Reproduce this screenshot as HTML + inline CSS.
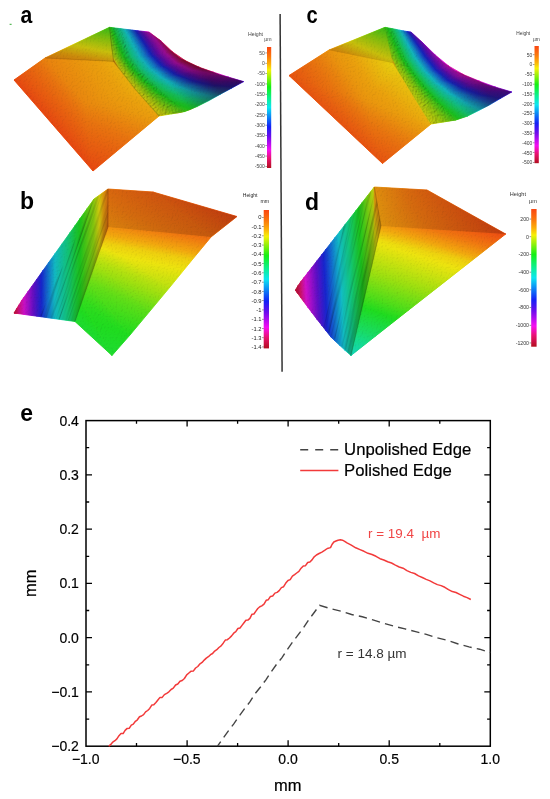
<!DOCTYPE html>
<html><head><meta charset="utf-8"><title>Figure</title>
<style>html,body{margin:0;padding:0;background:#fff}svg{display:block}text{font-family:"Liberation Sans",sans-serif;white-space:pre}</style>
</head><body>
<svg width="550" height="799" viewBox="0 0 550 799">
<defs>
<linearGradient id="cm"><stop offset="0" stop-color="#EE4A12"/><stop offset="0.08" stop-color="#F07810"/><stop offset="0.14" stop-color="#F2A80E"/><stop offset="0.19" stop-color="#EDE40F"/><stop offset="0.25" stop-color="#9CE010"/><stop offset="0.33" stop-color="#1FDC1F"/><stop offset="0.42" stop-color="#14DC8C"/><stop offset="0.5" stop-color="#14D2DC"/><stop offset="0.58" stop-color="#1482E6"/><stop offset="0.66" stop-color="#1A28E6"/><stop offset="0.74" stop-color="#6A10DC"/><stop offset="0.8" stop-color="#B010E0"/><stop offset="0.85" stop-color="#E612E0"/><stop offset="0.92" stop-color="#E0146E"/><stop offset="1" stop-color="#B0101E"/></linearGradient>
<linearGradient id="cb" x1="0" y1="0" x2="0" y2="1"><stop offset="0" stop-color="#FA4612"/><stop offset="0.08" stop-color="#FB7A0C"/><stop offset="0.14" stop-color="#FCB008"/><stop offset="0.19" stop-color="#F6F008"/><stop offset="0.25" stop-color="#98F00A"/><stop offset="0.33" stop-color="#14F014"/><stop offset="0.42" stop-color="#0CF08C"/><stop offset="0.5" stop-color="#0CE6F0"/><stop offset="0.58" stop-color="#0C82F6"/><stop offset="0.66" stop-color="#1420F6"/><stop offset="0.74" stop-color="#6C0CEC"/><stop offset="0.8" stop-color="#B80CF0"/><stop offset="0.85" stop-color="#F60EF0"/><stop offset="0.92" stop-color="#E81270"/><stop offset="1" stop-color="#B20E1E"/></linearGradient>
<filter id="tex" x="0" y="0" width="1" height="1" color-interpolation-filters="sRGB"><feTurbulence type="fractalNoise" baseFrequency=".8" numOctaves="1" seed="7" result="n"/><feDiffuseLighting in="n" surfaceScale=".35" diffuseConstant="1.18" lighting-color="#fff" result="l"><feDistantLight azimuth="220" elevation="58"/></feDiffuseLighting><feComposite in="l" in2="SourceGraphic" operator="in"/></filter>
<filter id="tex2" x="0" y="0" width="1" height="1" color-interpolation-filters="sRGB"><feTurbulence type="fractalNoise" baseFrequency=".9" numOctaves="2" seed="3" result="n"/><feDiffuseLighting in="n" surfaceScale=".9" diffuseConstant="1.12" lighting-color="#fff" result="l"><feDistantLight azimuth="220" elevation="58"/></feDiffuseLighting><feComposite in="l" in2="SourceGraphic" operator="in"/></filter>
<filter id="tex3" x="0" y="0" width="1" height="1" color-interpolation-filters="sRGB"><feTurbulence type="fractalNoise" baseFrequency=".55 .012" numOctaves="2" seed="5" result="n"/><feDiffuseLighting in="n" surfaceScale=".7" diffuseConstant="1.12" lighting-color="#fff" result="l"><feDistantLight azimuth="180" elevation="60"/></feDiffuseLighting><feComposite in="l" in2="SourceGraphic" operator="in"/></filter>
<linearGradient id="g1" gradientUnits="userSpaceOnUse" x1="135.0" y1="88.0" x2="185.0" y2="48.0"><stop offset="0" stop-color="#000" stop-opacity="0.16"/><stop offset="0.45" stop-color="#000" stop-opacity="0.16"/><stop offset="1" stop-color="#200010" stop-opacity="0.6"/></linearGradient>
<linearGradient id="g2" href="#cm" gradientUnits="userSpaceOnUse" x1="41.0" y1="78.0" x2="81.2" y2="-121.9"/>
<linearGradient id="g3" href="#cm" gradientUnits="userSpaceOnUse" x1="54.4" y1="128.5" x2="345.5" y2="-114.3"/>
<linearGradient id="g4" href="#cm" gradientUnits="userSpaceOnUse" x1="-4.5" y1="169.4" x2="847.8" y2="-463.0"/>
<linearGradient id="g5" href="#cm" gradientUnits="userSpaceOnUse" x1="-3.7" y1="171.8" x2="840.9" y2="-483.1"/>
<linearGradient id="g6" href="#cm" gradientUnits="userSpaceOnUse" x1="32.9" y1="179.6" x2="529.2" y2="-549.8"/>
<linearGradient id="g7" href="#cm" gradientUnits="userSpaceOnUse" x1="60.4" y1="155.8" x2="294.5" y2="-347.4"/>
<linearGradient id="g8" href="#cm" gradientUnits="userSpaceOnUse" x1="55.9" y1="128.3" x2="333.1" y2="-112.3"/>
<linearGradient id="g9" href="#cm" gradientUnits="userSpaceOnUse" x1="89.7" y1="35.4" x2="153.6" y2="9.2"/>
<linearGradient id="g10" href="#cm" gradientUnits="userSpaceOnUse" x1="87.4" y1="36.0" x2="158.7" y2="8.0"/>
<linearGradient id="g11" href="#cm" gradientUnits="userSpaceOnUse" x1="93.5" y1="50.2" x2="161.8" y2="19.6"/>
<linearGradient id="g12" href="#cm" gradientUnits="userSpaceOnUse" x1="92.5" y1="50.4" x2="164.7" y2="19.0"/>
<linearGradient id="g13" href="#cm" gradientUnits="userSpaceOnUse" x1="101.4" y1="65.5" x2="158.3" y2="25.0"/>
<linearGradient id="g14" href="#cm" gradientUnits="userSpaceOnUse" x1="100.2" y1="65.9" x2="163.0" y2="23.7"/>
<linearGradient id="g15" href="#cm" gradientUnits="userSpaceOnUse" x1="110.7" y1="78.6" x2="161.0" y2="33.1"/>
<linearGradient id="g16" href="#cm" gradientUnits="userSpaceOnUse" x1="107.7" y1="79.7" x2="173.6" y2="28.5"/>
<linearGradient id="g17" href="#cm" gradientUnits="userSpaceOnUse" x1="119.8" y1="92.0" x2="170.4" y2="38.6"/>
<linearGradient id="g18" href="#cm" gradientUnits="userSpaceOnUse" x1="114.7" y1="94.2" x2="192.3" y2="29.1"/>
<linearGradient id="g19" href="#cm" gradientUnits="userSpaceOnUse" x1="128.8" y1="106.1" x2="183.1" y2="39.2"/>
<linearGradient id="g20" href="#cm" gradientUnits="userSpaceOnUse" x1="122.0" y1="109.7" x2="212.4" y2="23.6"/>
<linearGradient id="g21" href="#cm" gradientUnits="userSpaceOnUse" x1="137.2" y1="120.7" x2="201.4" y2="34.3"/>
<linearGradient id="g22" href="#cm" gradientUnits="userSpaceOnUse" x1="126.7" y1="126.5" x2="247.7" y2="8.4"/>
<linearGradient id="g23" href="#cm" gradientUnits="userSpaceOnUse" x1="90.8" y1="39.6" x2="154.6" y2="9.3"/>
<linearGradient id="g24" href="#cm" gradientUnits="userSpaceOnUse" x1="87.0" y1="40.5" x2="160.8" y2="7.8"/>
<linearGradient id="g25" href="#cm" gradientUnits="userSpaceOnUse" x1="94.0" y1="54.7" x2="164.6" y2="19.6"/>
<linearGradient id="g26" href="#cm" gradientUnits="userSpaceOnUse" x1="92.1" y1="55.2" x2="168.2" y2="18.8"/>
<linearGradient id="g27" href="#cm" gradientUnits="userSpaceOnUse" x1="103.8" y1="71.1" x2="162.5" y2="26.0"/>
<linearGradient id="g28" href="#cm" gradientUnits="userSpaceOnUse" x1="101.6" y1="71.9" x2="167.4" y2="24.3"/>
<linearGradient id="g29" href="#cm" gradientUnits="userSpaceOnUse" x1="115.6" y1="84.8" x2="163.8" y2="34.5"/>
<linearGradient id="g30" href="#cm" gradientUnits="userSpaceOnUse" x1="111.0" y1="87.1" x2="174.7" y2="28.9"/>
<linearGradient id="g31" href="#cm" gradientUnits="userSpaceOnUse" x1="127.1" y1="98.2" x2="170.9" y2="40.7"/>
<linearGradient id="g32" href="#cm" gradientUnits="userSpaceOnUse" x1="120.3" y1="103.0" x2="187.4" y2="29.1"/>
<linearGradient id="g33" href="#cm" gradientUnits="userSpaceOnUse" x1="138.0" y1="112.1" x2="182.0" y2="42.2"/>
<linearGradient id="g34" href="#cm" gradientUnits="userSpaceOnUse" x1="130.4" y1="119.1" x2="201.5" y2="24.3"/>
<linearGradient id="g35" href="#cm" gradientUnits="userSpaceOnUse" x1="148.7" y1="126.2" x2="196.1" y2="38.6"/>
<linearGradient id="g36" href="#cm" gradientUnits="userSpaceOnUse" x1="139.1" y1="136.7" x2="222.7" y2="9.4"/>
<linearGradient id="g37" href="#cm" gradientUnits="userSpaceOnUse" x1="95.8" y1="42.3" x2="151.3" y2="12.0"/>
<linearGradient id="g38" href="#cm" gradientUnits="userSpaceOnUse" x1="89.7" y1="43.8" x2="158.8" y2="10.2"/>
<linearGradient id="g39" href="#cm" gradientUnits="userSpaceOnUse" x1="97.6" y1="58.2" x2="163.4" y2="22.2"/>
<linearGradient id="g40" href="#cm" gradientUnits="userSpaceOnUse" x1="94.0" y1="58.9" x2="168.3" y2="21.2"/>
<linearGradient id="g41" href="#cm" gradientUnits="userSpaceOnUse" x1="108.3" y1="76.3" x2="164.0" y2="28.8"/>
<linearGradient id="g42" href="#cm" gradientUnits="userSpaceOnUse" x1="104.2" y1="77.7" x2="170.0" y2="26.7"/>
<linearGradient id="g43" href="#cm" gradientUnits="userSpaceOnUse" x1="122.3" y1="91.2" x2="166.1" y2="36.6"/>
<linearGradient id="g44" href="#cm" gradientUnits="userSpaceOnUse" x1="115.4" y1="95.4" x2="176.6" y2="30.2"/>
<linearGradient id="g45" href="#cm" gradientUnits="userSpaceOnUse" x1="136.3" y1="105.3" x2="172.7" y2="42.1"/>
<linearGradient id="g46" href="#cm" gradientUnits="userSpaceOnUse" x1="127.7" y1="113.6" x2="186.5" y2="28.9"/>
<linearGradient id="g47" href="#cm" gradientUnits="userSpaceOnUse" x1="149.2" y1="119.8" x2="183.3" y2="41.9"/>
<linearGradient id="g48" href="#cm" gradientUnits="userSpaceOnUse" x1="140.7" y1="131.3" x2="198.0" y2="21.9"/>
<linearGradient id="g49" href="#cm" gradientUnits="userSpaceOnUse" x1="162.7" y1="134.3" x2="194.2" y2="36.8"/>
<linearGradient id="g50" href="#cm" gradientUnits="userSpaceOnUse" x1="154.3" y1="150.5" x2="210.7" y2="4.7"/>
<linearGradient id="g51" href="#cm" gradientUnits="userSpaceOnUse" x1="103.1" y1="44.2" x2="147.7" y2="15.9"/>
<linearGradient id="g52" href="#cm" gradientUnits="userSpaceOnUse" x1="96.1" y1="46.0" x2="154.1" y2="14.2"/>
<linearGradient id="g53" href="#cm" gradientUnits="userSpaceOnUse" x1="104.3" y1="59.7" x2="160.1" y2="26.5"/>
<linearGradient id="g54" href="#cm" gradientUnits="userSpaceOnUse" x1="100.3" y1="60.4" x2="164.0" y2="25.8"/>
<linearGradient id="g55" href="#cm" gradientUnits="userSpaceOnUse" x1="116.3" y1="77.8" x2="162.3" y2="34.8"/>
<linearGradient id="g56" href="#cm" gradientUnits="userSpaceOnUse" x1="112.2" y1="79.4" x2="166.4" y2="33.2"/>
<linearGradient id="g57" href="#cm" gradientUnits="userSpaceOnUse" x1="132.5" y1="92.0" x2="165.7" y2="43.9"/>
<linearGradient id="g58" href="#cm" gradientUnits="userSpaceOnUse" x1="126.3" y1="96.6" x2="172.1" y2="39.2"/>
<linearGradient id="g59" href="#cm" gradientUnits="userSpaceOnUse" x1="148.4" y1="104.3" x2="173.4" y2="51.0"/>
<linearGradient id="g60" href="#cm" gradientUnits="userSpaceOnUse" x1="141.6" y1="112.5" x2="180.7" y2="42.1"/>
<linearGradient id="g61" href="#cm" gradientUnits="userSpaceOnUse" x1="162.5" y1="116.7" x2="184.6" y2="53.3"/>
<linearGradient id="g62" href="#cm" gradientUnits="userSpaceOnUse" x1="156.6" y1="126.6" x2="191.8" y2="41.2"/>
<linearGradient id="g63" href="#cm" gradientUnits="userSpaceOnUse" x1="177.0" y1="128.3" x2="195.9" y2="52.6"/>
<linearGradient id="g64" href="#cm" gradientUnits="userSpaceOnUse" x1="171.9" y1="140.2" x2="203.3" y2="35.4"/>
<linearGradient id="g65" href="#cm" gradientUnits="userSpaceOnUse" x1="109.7" y1="46.8" x2="146.6" y2="19.2"/>
<linearGradient id="g66" href="#cm" gradientUnits="userSpaceOnUse" x1="101.6" y1="49.4" x2="151.9" y2="17.5"/>
<linearGradient id="g67" href="#cm" gradientUnits="userSpaceOnUse" x1="110.1" y1="62.1" x2="159.3" y2="29.8"/>
<linearGradient id="g68" href="#cm" gradientUnits="userSpaceOnUse" x1="105.4" y1="63.0" x2="162.4" y2="29.2"/>
<linearGradient id="g69" href="#cm" gradientUnits="userSpaceOnUse" x1="123.6" y1="80.0" x2="163.1" y2="39.4"/>
<linearGradient id="g70" href="#cm" gradientUnits="userSpaceOnUse" x1="119.2" y1="82.0" x2="166.0" y2="38.2"/>
<linearGradient id="g71" href="#cm" gradientUnits="userSpaceOnUse" x1="142.4" y1="93.0" x2="168.2" y2="49.4"/>
<linearGradient id="g72" href="#cm" gradientUnits="userSpaceOnUse" x1="136.2" y1="98.5" x2="172.2" y2="45.8"/>
<linearGradient id="g73" href="#cm" gradientUnits="userSpaceOnUse" x1="160.1" y1="103.5" x2="177.3" y2="57.1"/>
<linearGradient id="g74" href="#cm" gradientUnits="userSpaceOnUse" x1="154.2" y1="112.4" x2="181.3" y2="51.0"/>
<linearGradient id="g75" href="#cm" gradientUnits="userSpaceOnUse" x1="175.0" y1="114.4" x2="189.4" y2="60.3"/>
<linearGradient id="g76" href="#cm" gradientUnits="userSpaceOnUse" x1="170.3" y1="124.3" x2="193.1" y2="52.4"/>
<linearGradient id="g77" href="#cm" gradientUnits="userSpaceOnUse" x1="190.4" y1="124.2" x2="201.3" y2="61.4"/>
<linearGradient id="g78" href="#cm" gradientUnits="userSpaceOnUse" x1="186.8" y1="135.1" x2="204.9" y2="50.5"/>
<linearGradient id="g79" href="#cm" gradientUnits="userSpaceOnUse" x1="113.3" y1="51.9" x2="148.4" y2="21.6"/>
<linearGradient id="g80" href="#cm" gradientUnits="userSpaceOnUse" x1="103.4" y1="55.5" x2="152.8" y2="20.0"/>
<linearGradient id="g81" href="#cm" gradientUnits="userSpaceOnUse" x1="112.0" y1="67.4" x2="161.4" y2="31.9"/>
<linearGradient id="g82" href="#cm" gradientUnits="userSpaceOnUse" x1="106.4" y1="68.5" x2="163.6" y2="31.5"/>
<linearGradient id="g83" href="#cm" gradientUnits="userSpaceOnUse" x1="128.2" y1="85.3" x2="166.5" y2="42.5"/>
<linearGradient id="g84" href="#cm" gradientUnits="userSpaceOnUse" x1="123.0" y1="87.8" x2="168.5" y2="41.5"/>
<linearGradient id="g85" href="#cm" gradientUnits="userSpaceOnUse" x1="151.2" y1="96.4" x2="173.0" y2="52.9"/>
<linearGradient id="g86" href="#cm" gradientUnits="userSpaceOnUse" x1="144.6" y1="103.5" x2="175.4" y2="50.3"/>
<linearGradient id="g87" href="#cm" gradientUnits="userSpaceOnUse" x1="171.4" y1="104.1" x2="183.3" y2="60.8"/>
<linearGradient id="g88" href="#cm" gradientUnits="userSpaceOnUse" x1="166.1" y1="115.0" x2="185.4" y2="56.5"/>
<linearGradient id="g89" href="#cm" gradientUnits="userSpaceOnUse" x1="187.3" y1="113.7" x2="196.2" y2="64.1"/>
<linearGradient id="g90" href="#cm" gradientUnits="userSpaceOnUse" x1="183.7" y1="125.0" x2="198.0" y2="58.5"/>
<linearGradient id="g91" href="#cm" gradientUnits="userSpaceOnUse" x1="203.8" y1="121.8" x2="208.7" y2="65.7"/>
<linearGradient id="g92" href="#cm" gradientUnits="userSpaceOnUse" x1="201.6" y1="133.8" x2="210.1" y2="58.0"/>
<linearGradient id="g93" href="#cm" gradientUnits="userSpaceOnUse" x1="120.0" y1="55.5" x2="150.0" y2="24.6"/>
<linearGradient id="g94" href="#cm" gradientUnits="userSpaceOnUse" x1="106.0" y1="61.6" x2="154.0" y2="22.8"/>
<linearGradient id="g95" href="#cm" gradientUnits="userSpaceOnUse" x1="115.0" y1="73.1" x2="163.4" y2="34.4"/>
<linearGradient id="g96" href="#cm" gradientUnits="userSpaceOnUse" x1="106.1" y1="75.1" x2="165.5" y2="34.0"/>
<linearGradient id="g97" href="#cm" gradientUnits="userSpaceOnUse" x1="133.2" y1="91.6" x2="170.4" y2="45.6"/>
<linearGradient id="g98" href="#cm" gradientUnits="userSpaceOnUse" x1="124.7" y1="96.1" x2="172.1" y2="44.7"/>
<linearGradient id="g99" href="#cm" gradientUnits="userSpaceOnUse" x1="160.9" y1="100.6" x2="178.9" y2="56.0"/>
<linearGradient id="g100" href="#cm" gradientUnits="userSpaceOnUse" x1="152.5" y1="112.0" x2="180.4" y2="54.0"/>
<linearGradient id="g101" href="#cm" gradientUnits="userSpaceOnUse" x1="183.5" y1="105.5" x2="190.9" y2="63.3"/>
<linearGradient id="g102" href="#cm" gradientUnits="userSpaceOnUse" x1="178.7" y1="121.1" x2="191.8" y2="60.2"/>
<linearGradient id="g103" href="#cm" gradientUnits="userSpaceOnUse" x1="200.8" y1="114.6" x2="204.4" y2="66.0"/>
<linearGradient id="g104" href="#cm" gradientUnits="userSpaceOnUse" x1="198.6" y1="130.6" x2="205.0" y2="61.6"/>
<linearGradient id="g105" href="#cm" gradientUnits="userSpaceOnUse" x1="218.8" y1="121.7" x2="217.4" y2="67.0"/>
<linearGradient id="g106" href="#cm" gradientUnits="userSpaceOnUse" x1="219.2" y1="138.2" x2="217.2" y2="60.5"/>
<linearGradient id="g107" gradientUnits="userSpaceOnUse" x1="410.0" y1="85.0" x2="455.0" y2="50.0"><stop offset="0" stop-color="#000" stop-opacity="0.12"/><stop offset="0.45" stop-color="#000" stop-opacity="0.15"/><stop offset="1" stop-color="#200010" stop-opacity="0.5"/></linearGradient>
<linearGradient id="g108" href="#cm" gradientUnits="userSpaceOnUse" x1="318.1" y1="75.0" x2="408.8" y2="-133.3"/>
<linearGradient id="g109" href="#cm" gradientUnits="userSpaceOnUse" x1="318.9" y1="133.2" x2="703.2" y2="-143.5"/>
<linearGradient id="g110" href="#cm" gradientUnits="userSpaceOnUse" x1="293.0" y1="151.8" x2="892.8" y2="-280.0"/>
<linearGradient id="g111" href="#cm" gradientUnits="userSpaceOnUse" x1="329.1" y1="182.7" x2="628.1" y2="-506.7"/>
<linearGradient id="g112" href="#cm" gradientUnits="userSpaceOnUse" x1="298.1" y1="177.1" x2="855.9" y2="-465.3"/>
<linearGradient id="g113" href="#cm" gradientUnits="userSpaceOnUse" x1="296.6" y1="177.2" x2="866.4" y2="-466.2"/>
<linearGradient id="g114" href="#cm" gradientUnits="userSpaceOnUse" x1="336.9" y1="146.5" x2="571.2" y2="-241.2"/>
<linearGradient id="g115" href="#cm" gradientUnits="userSpaceOnUse" x1="336.8" y1="129.9" x2="571.5" y2="-119.5"/>
<linearGradient id="g116" href="#cm" gradientUnits="userSpaceOnUse" x1="356.7" y1="39.8" x2="448.0" y2="-0.6"/>
<linearGradient id="g117" href="#cm" gradientUnits="userSpaceOnUse" x1="353.3" y1="40.9" x2="455.6" y2="-3.0"/>
<linearGradient id="g118" href="#cm" gradientUnits="userSpaceOnUse" x1="362.5" y1="56.9" x2="453.6" y2="6.1"/>
<linearGradient id="g119" href="#cm" gradientUnits="userSpaceOnUse" x1="361.1" y1="57.6" x2="457.2" y2="4.4"/>
<linearGradient id="g120" href="#cm" gradientUnits="userSpaceOnUse" x1="372.1" y1="72.0" x2="452.8" y2="13.0"/>
<linearGradient id="g121" href="#cm" gradientUnits="userSpaceOnUse" x1="371.6" y1="72.2" x2="454.1" y2="12.3"/>
<linearGradient id="g122" href="#cm" gradientUnits="userSpaceOnUse" x1="380.9" y1="84.5" x2="461.3" y2="24.0"/>
<linearGradient id="g123" href="#cm" gradientUnits="userSpaceOnUse" x1="377.5" y1="85.7" x2="473.6" y2="19.6"/>
<linearGradient id="g124" href="#cm" gradientUnits="userSpaceOnUse" x1="388.6" y1="99.1" x2="473.5" y2="29.9"/>
<linearGradient id="g125" href="#cm" gradientUnits="userSpaceOnUse" x1="381.2" y1="101.6" x2="501.3" y2="20.4"/>
<linearGradient id="g126" href="#cm" gradientUnits="userSpaceOnUse" x1="394.6" y1="115.9" x2="491.5" y2="27.7"/>
<linearGradient id="g127" href="#cm" gradientUnits="userSpaceOnUse" x1="384.0" y1="119.6" x2="532.5" y2="13.2"/>
<linearGradient id="g128" href="#cm" gradientUnits="userSpaceOnUse" x1="399.0" y1="133.9" x2="517.6" y2="18.8"/>
<linearGradient id="g129" href="#cm" gradientUnits="userSpaceOnUse" x1="385.3" y1="138.7" x2="572.4" y2="-0.2"/>
<linearGradient id="g130" href="#cm" gradientUnits="userSpaceOnUse" x1="363.3" y1="39.4" x2="437.8" y2="6.0"/>
<linearGradient id="g131" href="#cm" gradientUnits="userSpaceOnUse" x1="360.9" y1="40.0" x2="442.4" y2="4.9"/>
<linearGradient id="g132" href="#cm" gradientUnits="userSpaceOnUse" x1="369.2" y1="55.7" x2="444.3" y2="16.5"/>
<linearGradient id="g133" href="#cm" gradientUnits="userSpaceOnUse" x1="368.3" y1="56.1" x2="446.2" y2="15.9"/>
<linearGradient id="g134" href="#cm" gradientUnits="userSpaceOnUse" x1="379.0" y1="71.5" x2="444.8" y2="25.9"/>
<linearGradient id="g135" href="#cm" gradientUnits="userSpaceOnUse" x1="378.9" y1="71.5" x2="444.9" y2="25.8"/>
<linearGradient id="g136" href="#cm" gradientUnits="userSpaceOnUse" x1="389.8" y1="84.8" x2="448.5" y2="37.3"/>
<linearGradient id="g137" href="#cm" gradientUnits="userSpaceOnUse" x1="386.9" y1="85.9" x2="456.2" y2="34.3"/>
<linearGradient id="g138" href="#cm" gradientUnits="userSpaceOnUse" x1="399.7" y1="99.2" x2="456.5" y2="45.5"/>
<linearGradient id="g139" href="#cm" gradientUnits="userSpaceOnUse" x1="393.6" y1="102.0" x2="473.0" y2="37.8"/>
<linearGradient id="g140" href="#cm" gradientUnits="userSpaceOnUse" x1="408.2" y1="114.8" x2="469.5" y2="48.4"/>
<linearGradient id="g141" href="#cm" gradientUnits="userSpaceOnUse" x1="400.2" y1="119.0" x2="491.8" y2="36.5"/>
<linearGradient id="g142" href="#cm" gradientUnits="userSpaceOnUse" x1="415.7" y1="131.0" x2="487.4" y2="46.9"/>
<linearGradient id="g143" href="#cm" gradientUnits="userSpaceOnUse" x1="406.1" y1="136.2" x2="515.7" y2="31.7"/>
<linearGradient id="g144" href="#cm" gradientUnits="userSpaceOnUse" x1="372.6" y1="38.4" x2="424.9" y2="12.8"/>
<linearGradient id="g145" href="#cm" gradientUnits="userSpaceOnUse" x1="368.6" y1="39.3" x2="431.4" y2="11.3"/>
<linearGradient id="g146" href="#cm" gradientUnits="userSpaceOnUse" x1="376.8" y1="55.1" x2="435.3" y2="24.2"/>
<linearGradient id="g147" href="#cm" gradientUnits="userSpaceOnUse" x1="374.5" y1="55.7" x2="439.0" y2="23.2"/>
<linearGradient id="g148" href="#cm" gradientUnits="userSpaceOnUse" x1="385.4" y1="72.1" x2="439.7" y2="34.0"/>
<linearGradient id="g149" href="#cm" gradientUnits="userSpaceOnUse" x1="384.4" y1="72.5" x2="441.6" y2="33.4"/>
<linearGradient id="g150" href="#cm" gradientUnits="userSpaceOnUse" x1="397.0" y1="86.9" x2="444.2" y2="44.6"/>
<linearGradient id="g151" href="#cm" gradientUnits="userSpaceOnUse" x1="393.3" y1="88.4" x2="451.0" y2="41.8"/>
<linearGradient id="g152" href="#cm" gradientUnits="userSpaceOnUse" x1="408.5" y1="101.9" x2="451.9" y2="52.8"/>
<linearGradient id="g153" href="#cm" gradientUnits="userSpaceOnUse" x1="401.8" y1="105.7" x2="464.4" y2="45.9"/>
<linearGradient id="g154" href="#cm" gradientUnits="userSpaceOnUse" x1="418.7" y1="117.7" x2="464.2" y2="56.5"/>
<linearGradient id="g155" href="#cm" gradientUnits="userSpaceOnUse" x1="410.5" y1="123.2" x2="479.9" y2="45.9"/>
<linearGradient id="g156" href="#cm" gradientUnits="userSpaceOnUse" x1="428.1" y1="133.9" x2="479.8" y2="56.3"/>
<linearGradient id="g157" href="#cm" gradientUnits="userSpaceOnUse" x1="418.6" y1="140.5" x2="499.3" y2="42.6"/>
<linearGradient id="g158" href="#cm" gradientUnits="userSpaceOnUse" x1="379.8" y1="38.6" x2="417.7" y2="17.2"/>
<linearGradient id="g159" href="#cm" gradientUnits="userSpaceOnUse" x1="374.7" y1="40.0" x2="424.5" y2="15.5"/>
<linearGradient id="g160" href="#cm" gradientUnits="userSpaceOnUse" x1="383.3" y1="55.6" x2="429.8" y2="28.9"/>
<linearGradient id="g161" href="#cm" gradientUnits="userSpaceOnUse" x1="380.0" y1="56.4" x2="434.0" y2="27.9"/>
<linearGradient id="g162" href="#cm" gradientUnits="userSpaceOnUse" x1="391.4" y1="73.1" x2="436.8" y2="39.4"/>
<linearGradient id="g163" href="#cm" gradientUnits="userSpaceOnUse" x1="389.4" y1="73.7" x2="439.3" y2="38.6"/>
<linearGradient id="g164" href="#cm" gradientUnits="userSpaceOnUse" x1="404.0" y1="88.8" x2="442.3" y2="49.9"/>
<linearGradient id="g165" href="#cm" gradientUnits="userSpaceOnUse" x1="399.3" y1="91.0" x2="448.2" y2="47.2"/>
<linearGradient id="g166" href="#cm" gradientUnits="userSpaceOnUse" x1="417.3" y1="104.2" x2="450.5" y2="58.2"/>
<linearGradient id="g167" href="#cm" gradientUnits="userSpaceOnUse" x1="409.7" y1="109.4" x2="459.8" y2="51.8"/>
<linearGradient id="g168" href="#cm" gradientUnits="userSpaceOnUse" x1="429.1" y1="119.9" x2="462.6" y2="62.4"/>
<linearGradient id="g169" href="#cm" gradientUnits="userSpaceOnUse" x1="420.4" y1="127.4" x2="473.7" y2="52.7"/>
<linearGradient id="g170" href="#cm" gradientUnits="userSpaceOnUse" x1="440.5" y1="136.0" x2="476.8" y2="62.9"/>
<linearGradient id="g171" href="#cm" gradientUnits="userSpaceOnUse" x1="430.7" y1="145.2" x2="490.6" y2="50.0"/>
<linearGradient id="g172" href="#cm" gradientUnits="userSpaceOnUse" x1="384.2" y1="40.4" x2="415.7" y2="19.8"/>
<linearGradient id="g173" href="#cm" gradientUnits="userSpaceOnUse" x1="377.5" y1="42.4" x2="422.4" y2="17.7"/>
<linearGradient id="g174" href="#cm" gradientUnits="userSpaceOnUse" x1="387.2" y1="57.7" x2="428.7" y2="31.2"/>
<linearGradient id="g175" href="#cm" gradientUnits="userSpaceOnUse" x1="382.4" y1="58.9" x2="433.0" y2="30.1"/>
<linearGradient id="g176" href="#cm" gradientUnits="userSpaceOnUse" x1="395.1" y1="75.5" x2="437.1" y2="42.2"/>
<linearGradient id="g177" href="#cm" gradientUnits="userSpaceOnUse" x1="392.1" y1="76.5" x2="439.8" y2="41.3"/>
<linearGradient id="g178" href="#cm" gradientUnits="userSpaceOnUse" x1="409.7" y1="91.8" x2="443.1" y2="52.9"/>
<linearGradient id="g179" href="#cm" gradientUnits="userSpaceOnUse" x1="403.3" y1="95.2" x2="448.4" y2="50.1"/>
<linearGradient id="g180" href="#cm" gradientUnits="userSpaceOnUse" x1="425.7" y1="106.8" x2="451.6" y2="61.8"/>
<linearGradient id="g181" href="#cm" gradientUnits="userSpaceOnUse" x1="416.7" y1="115.0" x2="458.7" y2="55.2"/>
<linearGradient id="g182" href="#cm" gradientUnits="userSpaceOnUse" x1="439.6" y1="122.3" x2="463.8" y2="66.2"/>
<linearGradient id="g183" href="#cm" gradientUnits="userSpaceOnUse" x1="430.2" y1="134.0" x2="471.6" y2="56.5"/>
<linearGradient id="g184" href="#cm" gradientUnits="userSpaceOnUse" x1="453.2" y1="138.3" x2="477.4" y2="66.9"/>
<linearGradient id="g185" href="#cm" gradientUnits="userSpaceOnUse" x1="443.1" y1="153.0" x2="486.8" y2="53.3"/>
<linearGradient id="g186" href="#cm" gradientUnits="userSpaceOnUse" x1="388.1" y1="42.7" x2="415.3" y2="22.0"/>
<linearGradient id="g187" href="#cm" gradientUnits="userSpaceOnUse" x1="380.0" y1="45.5" x2="421.4" y2="19.8"/>
<linearGradient id="g188" href="#cm" gradientUnits="userSpaceOnUse" x1="390.7" y1="60.4" x2="428.8" y2="33.2"/>
<linearGradient id="g189" href="#cm" gradientUnits="userSpaceOnUse" x1="384.7" y1="62.0" x2="432.7" y2="32.1"/>
<linearGradient id="g190" href="#cm" gradientUnits="userSpaceOnUse" x1="398.7" y1="78.5" x2="438.3" y2="44.6"/>
<linearGradient id="g191" href="#cm" gradientUnits="userSpaceOnUse" x1="394.5" y1="79.9" x2="440.8" y2="43.7"/>
<linearGradient id="g192" href="#cm" gradientUnits="userSpaceOnUse" x1="415.8" y1="95.2" x2="445.2" y2="55.7"/>
<linearGradient id="g193" href="#cm" gradientUnits="userSpaceOnUse" x1="407.8" y1="100.3" x2="449.4" y2="53.0"/>
<linearGradient id="g194" href="#cm" gradientUnits="userSpaceOnUse" x1="434.9" y1="109.3" x2="454.6" y2="64.8"/>
<linearGradient id="g195" href="#cm" gradientUnits="userSpaceOnUse" x1="425.2" y1="121.1" x2="459.3" y2="59.0"/>
<linearGradient id="g196" href="#cm" gradientUnits="userSpaceOnUse" x1="451.3" y1="124.2" x2="467.4" y2="69.4"/>
<linearGradient id="g197" href="#cm" gradientUnits="userSpaceOnUse" x1="442.6" y1="140.2" x2="472.0" y2="60.9"/>
<linearGradient id="g198" href="#cm" gradientUnits="userSpaceOnUse" x1="467.5" y1="139.7" x2="480.9" y2="70.3"/>
<linearGradient id="g199" href="#cm" gradientUnits="userSpaceOnUse" x1="459.2" y1="159.5" x2="486.0" y2="57.9"/>
<linearGradient id="g200" href="#cm" gradientUnits="userSpaceOnUse" x1="391.3" y1="45.5" x2="416.1" y2="23.8"/>
<linearGradient id="g201" href="#cm" gradientUnits="userSpaceOnUse" x1="381.2" y1="49.6" x2="421.7" y2="21.5"/>
<linearGradient id="g202" href="#cm" gradientUnits="userSpaceOnUse" x1="393.2" y1="64.1" x2="430.0" y2="34.7"/>
<linearGradient id="g203" href="#cm" gradientUnits="userSpaceOnUse" x1="384.7" y1="66.7" x2="433.7" y2="33.6"/>
<linearGradient id="g204" href="#cm" gradientUnits="userSpaceOnUse" x1="400.6" y1="83.0" x2="440.5" y2="46.3"/>
<linearGradient id="g205" href="#cm" gradientUnits="userSpaceOnUse" x1="394.2" y1="85.3" x2="443.0" y2="45.5"/>
<linearGradient id="g206" href="#cm" gradientUnits="userSpaceOnUse" x1="421.6" y1="99.8" x2="448.2" y2="57.8"/>
<linearGradient id="g207" href="#cm" gradientUnits="userSpaceOnUse" x1="410.8" y1="108.1" x2="451.6" y2="55.3"/>
<linearGradient id="g208" href="#cm" gradientUnits="userSpaceOnUse" x1="444.8" y1="111.7" x2="458.9" y2="67.3"/>
<linearGradient id="g209" href="#cm" gradientUnits="userSpaceOnUse" x1="434.7" y1="129.4" x2="461.8" y2="62.3"/>
<linearGradient id="g210" href="#cm" gradientUnits="userSpaceOnUse" x1="463.8" y1="125.3" x2="472.7" y2="71.8"/>
<linearGradient id="g211" href="#cm" gradientUnits="userSpaceOnUse" x1="457.3" y1="148.4" x2="474.8" y2="64.4"/>
<linearGradient id="g212" href="#cm" gradientUnits="userSpaceOnUse" x1="483.0" y1="140.1" x2="486.5" y2="72.4"/>
<linearGradient id="g213" href="#cm" gradientUnits="userSpaceOnUse" x1="479.4" y1="168.9" x2="488.0" y2="60.7"/>
<linearGradient id="g214" href="#cm" gradientUnits="userSpaceOnUse" x1="139.2" y1="144.4" x2="-307.1" y2="782.0"/>
<linearGradient id="g215" href="#cm" gradientUnits="userSpaceOnUse" x1="166.0" y1="165.7" x2="-158.6" y2="822.9"/>
<linearGradient id="g216" href="#cm" gradientUnits="userSpaceOnUse" x1="163.2" y1="174.2" x2="-91.1" y2="618.4"/>
<linearGradient id="g217" href="#cm" gradientUnits="userSpaceOnUse" x1="113.6" y1="201.1" x2="62.6" y2="436.6"/>
<linearGradient id="g218" href="#cm" gradientUnits="userSpaceOnUse" x1="113.7" y1="199.1" x2="61.9" y2="452.3"/>
<linearGradient id="g219" href="#cm" gradientUnits="userSpaceOnUse" x1="123.9" y1="146.3" x2="1.2" y2="698.8"/>
<linearGradient id="g220" href="#cm" gradientUnits="userSpaceOnUse" x1="123.5" y1="188.3" x2="3.0" y2="500.9"/>
<linearGradient id="g221" href="#cm" gradientUnits="userSpaceOnUse" x1="136.0" y1="162.3" x2="-35.1" y2="586.6"/>
<linearGradient id="g222" href="#cm" gradientUnits="userSpaceOnUse" x1="135.8" y1="167.8" x2="-34.3" y2="568.7"/>
<linearGradient id="g223" href="#cm" gradientUnits="userSpaceOnUse" x1="166.7" y1="86.0" x2="-107.4" y2="775.8"/>
<linearGradient id="g224" href="#cm" gradientUnits="userSpaceOnUse" x1="167.4" y1="142.8" x2="-109.0" y2="633.4"/>
<linearGradient id="g225" href="#cm" gradientUnits="userSpaceOnUse" x1="250.1" y1="-207.2" x2="-275.3" y2="1382.5"/>
<linearGradient id="g226" href="#cm" gradientUnits="userSpaceOnUse" x1="250.6" y1="118.1" x2="-276.2" y2="691.3"/>
<linearGradient id="g227" href="#cm" gradientUnits="userSpaceOnUse" x1="83.3" y1="313.0" x2="11.9" y2="313.0"/>
<linearGradient id="g228" href="#cm" gradientUnits="userSpaceOnUse" x1="83.3" y1="313.0" x2="11.9" y2="313.0"/>
<linearGradient id="g229" href="#cm" gradientUnits="userSpaceOnUse" x1="83.3" y1="308.1" x2="11.9" y2="308.1"/>
<linearGradient id="g230" href="#cm" gradientUnits="userSpaceOnUse" x1="83.3" y1="308.1" x2="11.9" y2="308.1"/>
<linearGradient id="g231" href="#cm" gradientUnits="userSpaceOnUse" x1="109.0" y1="304.9" x2="9.0" y2="304.9"/>
<linearGradient id="g232" href="#cm" gradientUnits="userSpaceOnUse" x1="109.0" y1="304.9" x2="9.0" y2="304.9"/>
<linearGradient id="g233" href="#cm" gradientUnits="userSpaceOnUse" x1="109.0" y1="300.0" x2="9.0" y2="300.0"/>
<linearGradient id="g234" href="#cm" gradientUnits="userSpaceOnUse" x1="109.0" y1="300.0" x2="9.0" y2="300.0"/>
<linearGradient id="g235" href="#cm" gradientUnits="userSpaceOnUse" x1="99.6" y1="297.2" x2="10.7" y2="297.2"/>
<linearGradient id="g236" href="#cm" gradientUnits="userSpaceOnUse" x1="99.6" y1="297.2" x2="10.7" y2="297.2"/>
<linearGradient id="g237" href="#cm" gradientUnits="userSpaceOnUse" x1="99.6" y1="291.6" x2="10.7" y2="291.6"/>
<linearGradient id="g238" href="#cm" gradientUnits="userSpaceOnUse" x1="99.6" y1="291.6" x2="10.7" y2="291.6"/>
<linearGradient id="g239" href="#cm" gradientUnits="userSpaceOnUse" x1="101.7" y1="286.0" x2="10.0" y2="286.0"/>
<linearGradient id="g240" href="#cm" gradientUnits="userSpaceOnUse" x1="101.7" y1="286.0" x2="10.0" y2="286.0"/>
<linearGradient id="g241" href="#cm" gradientUnits="userSpaceOnUse" x1="101.7" y1="279.0" x2="10.0" y2="279.0"/>
<linearGradient id="g242" href="#cm" gradientUnits="userSpaceOnUse" x1="101.7" y1="279.0" x2="10.0" y2="279.0"/>
<linearGradient id="g243" href="#cm" gradientUnits="userSpaceOnUse" x1="97.9" y1="270.5" x2="12.1" y2="270.5"/>
<linearGradient id="g244" href="#cm" gradientUnits="userSpaceOnUse" x1="97.9" y1="270.5" x2="12.1" y2="270.5"/>
<linearGradient id="g245" href="#cm" gradientUnits="userSpaceOnUse" x1="97.9" y1="262.1" x2="12.1" y2="262.1"/>
<linearGradient id="g246" href="#cm" gradientUnits="userSpaceOnUse" x1="97.9" y1="262.1" x2="12.1" y2="262.1"/>
<linearGradient id="g247" href="#cm" gradientUnits="userSpaceOnUse" x1="130.0" y1="253.7" x2="-20.0" y2="253.7"/>
<linearGradient id="g248" href="#cm" gradientUnits="userSpaceOnUse" x1="130.0" y1="253.7" x2="-20.0" y2="253.7"/>
<linearGradient id="g249" href="#cm" gradientUnits="userSpaceOnUse" x1="130.0" y1="243.9" x2="-20.0" y2="243.9"/>
<linearGradient id="g250" href="#cm" gradientUnits="userSpaceOnUse" x1="130.0" y1="243.9" x2="-20.0" y2="243.9"/>
<linearGradient id="g251" href="#cm" gradientUnits="userSpaceOnUse" x1="120.0" y1="232.7" x2="-5.0" y2="232.7"/>
<linearGradient id="g252" href="#cm" gradientUnits="userSpaceOnUse" x1="120.0" y1="232.7" x2="-5.0" y2="232.7"/>
<linearGradient id="g253" href="#cm" gradientUnits="userSpaceOnUse" x1="135.0" y1="225.7" x2="-31.7" y2="225.7"/>
<linearGradient id="g254" href="#cm" gradientUnits="userSpaceOnUse" x1="135.0" y1="225.7" x2="-31.7" y2="225.7"/>
<linearGradient id="g255" href="#cm" gradientUnits="userSpaceOnUse" x1="137.8" y1="218.6" x2="-37.3" y2="218.6"/>
<linearGradient id="g256" href="#cm" gradientUnits="userSpaceOnUse" x1="137.8" y1="218.6" x2="-37.3" y2="218.6"/>
<linearGradient id="g257" href="#cm" gradientUnits="userSpaceOnUse" x1="137.7" y1="208.8" x2="-37.2" y2="208.8"/>
<linearGradient id="g258" href="#cm" gradientUnits="userSpaceOnUse" x1="137.7" y1="208.8" x2="-37.2" y2="208.8"/>
<linearGradient id="g259" href="#cm" gradientUnits="userSpaceOnUse" x1="115.9" y1="199.0" x2="28.4" y2="199.0"/>
<linearGradient id="g260" href="#cm" gradientUnits="userSpaceOnUse" x1="115.9" y1="199.0" x2="28.4" y2="199.0"/>
<linearGradient id="g261" href="#cm" gradientUnits="userSpaceOnUse" x1="114.2" y1="194.0" x2="36.4" y2="194.0"/>
<linearGradient id="g262" href="#cm" gradientUnits="userSpaceOnUse" x1="114.2" y1="194.0" x2="36.4" y2="194.0"/>
<linearGradient id="g263" gradientUnits="userSpaceOnUse" x1="108.0" y1="200.0" x2="237.0" y2="220.0"><stop offset="0" stop-color="#000" stop-opacity="0.1"/><stop offset="1" stop-color="#000" stop-opacity="0.2"/></linearGradient>
<linearGradient id="g264" gradientUnits="userSpaceOnUse" x1="104.0" y1="250.0" x2="91.0" y2="246.0"><stop offset="0" stop-color="#000" stop-opacity="0.2"/><stop offset="1" stop-color="#000" stop-opacity="0"/></linearGradient>
<linearGradient id="g265" href="#cm" gradientUnits="userSpaceOnUse" x1="452.6" y1="158.7" x2="-199.8" y2="394.2"/>
<linearGradient id="g266" href="#cm" gradientUnits="userSpaceOnUse" x1="456.2" y1="168.1" x2="-127.5" y2="606.5"/>
<linearGradient id="g267" href="#cm" gradientUnits="userSpaceOnUse" x1="389.2" y1="198.8" x2="326.1" y2="407.9"/>
<linearGradient id="g268" href="#cm" gradientUnits="userSpaceOnUse" x1="390.2" y1="193.3" x2="319.2" y2="444.7"/>
<linearGradient id="g269" href="#cm" gradientUnits="userSpaceOnUse" x1="408.2" y1="147.2" x2="243.3" y2="649.0"/>
<linearGradient id="g270" href="#cm" gradientUnits="userSpaceOnUse" x1="408.2" y1="150.6" x2="243.5" y2="634.0"/>
<linearGradient id="g271" href="#cm" gradientUnits="userSpaceOnUse" x1="408.4" y1="157.1" x2="252.9" y2="616.3"/>
<linearGradient id="g272" href="#cm" gradientUnits="userSpaceOnUse" x1="409.4" y1="161.1" x2="249.9" y2="603.4"/>
<linearGradient id="g273" href="#cm" gradientUnits="userSpaceOnUse" x1="405.3" y1="183.2" x2="271.0" y2="555.8"/>
<linearGradient id="g274" href="#cm" gradientUnits="userSpaceOnUse" x1="405.5" y1="183.5" x2="270.5" y2="555.2"/>
<linearGradient id="g275" href="#cm" gradientUnits="userSpaceOnUse" x1="402.7" y1="209.7" x2="285.0" y2="517.0"/>
<linearGradient id="g276" href="#cm" gradientUnits="userSpaceOnUse" x1="460.7" y1="268.5" x2="290.3" y2="290.7"/>
<linearGradient id="g277" href="#cm" gradientUnits="userSpaceOnUse" x1="501.9" y1="290.0" x2="289.0" y2="290.0"/>
<linearGradient id="g278" href="#cm" gradientUnits="userSpaceOnUse" x1="362.5" y1="282.7" x2="294.7" y2="285.8"/>
<linearGradient id="g279" href="#cm" gradientUnits="userSpaceOnUse" x1="361.3" y1="282.5" x2="294.8" y2="285.8"/>
<linearGradient id="g280" href="#cm" gradientUnits="userSpaceOnUse" x1="373.2" y1="277.8" x2="293.4" y2="281.8"/>
<linearGradient id="g281" href="#cm" gradientUnits="userSpaceOnUse" x1="370.9" y1="277.7" x2="293.6" y2="281.8"/>
<linearGradient id="g282" href="#cm" gradientUnits="userSpaceOnUse" x1="388.3" y1="273.4" x2="290.8" y2="278.2"/>
<linearGradient id="g283" href="#cm" gradientUnits="userSpaceOnUse" x1="381.2" y1="273.2" x2="291.9" y2="278.2"/>
<linearGradient id="g284" href="#cm" gradientUnits="userSpaceOnUse" x1="389.9" y1="268.3" x2="290.2" y2="273.3"/>
<linearGradient id="g285" href="#cm" gradientUnits="userSpaceOnUse" x1="389.9" y1="268.3" x2="290.2" y2="273.3"/>
<linearGradient id="g286" href="#cm" gradientUnits="userSpaceOnUse" x1="389.7" y1="263.4" x2="289.9" y2="268.4"/>
<linearGradient id="g287" href="#cm" gradientUnits="userSpaceOnUse" x1="389.7" y1="263.4" x2="289.9" y2="268.4"/>
<linearGradient id="g288" href="#cm" gradientUnits="userSpaceOnUse" x1="390.5" y1="257.2" x2="289.2" y2="262.2"/>
<linearGradient id="g289" href="#cm" gradientUnits="userSpaceOnUse" x1="389.4" y1="257.2" x2="289.6" y2="262.2"/>
<linearGradient id="g290" href="#cm" gradientUnits="userSpaceOnUse" x1="397.5" y1="250.6" x2="285.3" y2="256.2"/>
<linearGradient id="g291" href="#cm" gradientUnits="userSpaceOnUse" x1="391.1" y1="250.9" x2="288.4" y2="256.1"/>
<linearGradient id="g292" href="#cm" gradientUnits="userSpaceOnUse" x1="393.0" y1="245.8" x2="287.5" y2="251.2"/>
<linearGradient id="g293" href="#cm" gradientUnits="userSpaceOnUse" x1="397.3" y1="245.7" x2="285.1" y2="251.3"/>
<linearGradient id="g294" href="#cm" gradientUnits="userSpaceOnUse" x1="383.5" y1="240.2" x2="293.7" y2="244.6"/>
<linearGradient id="g295" href="#cm" gradientUnits="userSpaceOnUse" x1="394.6" y1="239.5" x2="285.9" y2="245.1"/>
<linearGradient id="g296" href="#cm" gradientUnits="userSpaceOnUse" x1="388.8" y1="234.9" x2="288.7" y2="240.0"/>
<linearGradient id="g297" href="#cm" gradientUnits="userSpaceOnUse" x1="383.3" y1="235.2" x2="293.5" y2="239.7"/>
<linearGradient id="g298" href="#cm" gradientUnits="userSpaceOnUse" x1="400.4" y1="228.2" x2="275.7" y2="234.4"/>
<linearGradient id="g299" href="#cm" gradientUnits="userSpaceOnUse" x1="386.3" y1="229.0" x2="290.8" y2="233.6"/>
<linearGradient id="g300" href="#cm" gradientUnits="userSpaceOnUse" x1="400.1" y1="222.0" x2="275.4" y2="228.2"/>
<linearGradient id="g301" href="#cm" gradientUnits="userSpaceOnUse" x1="400.1" y1="222.0" x2="275.4" y2="228.2"/>
<linearGradient id="g302" href="#cm" gradientUnits="userSpaceOnUse" x1="399.7" y1="214.6" x2="275.0" y2="220.8"/>
<linearGradient id="g303" href="#cm" gradientUnits="userSpaceOnUse" x1="399.7" y1="214.6" x2="275.0" y2="220.8"/>
<linearGradient id="g304" href="#cm" gradientUnits="userSpaceOnUse" x1="409.0" y1="208.0" x2="256.7" y2="215.3"/>
<linearGradient id="g305" href="#cm" gradientUnits="userSpaceOnUse" x1="399.6" y1="208.4" x2="274.4" y2="214.7"/>
<linearGradient id="g306" href="#cm" gradientUnits="userSpaceOnUse" x1="403.1" y1="200.6" x2="269.0" y2="207.9"/>
<linearGradient id="g307" href="#cm" gradientUnits="userSpaceOnUse" x1="410.9" y1="200.4" x2="251.3" y2="208.4"/>
<linearGradient id="g308" href="#cm" gradientUnits="userSpaceOnUse" x1="398.4" y1="193.6" x2="280.9" y2="199.5"/>
<linearGradient id="g309" href="#cm" gradientUnits="userSpaceOnUse" x1="399.4" y1="193.6" x2="278.2" y2="199.5"/>
<linearGradient id="g310" href="#cm" gradientUnits="userSpaceOnUse" x1="388.7" y1="184.1" x2="268.9" y2="208.5"/>
<linearGradient id="g311" gradientUnits="userSpaceOnUse" x1="374.0" y1="200.0" x2="506.0" y2="234.0"><stop offset="0" stop-color="#000" stop-opacity="0.08"/><stop offset="1" stop-color="#000" stop-opacity="0.2"/></linearGradient>
<linearGradient id="g312" gradientUnits="userSpaceOnUse" x1="372.0" y1="270.0" x2="358.0" y2="267.0"><stop offset="0" stop-color="#000" stop-opacity="0.22"/><stop offset="1" stop-color="#000" stop-opacity="0"/></linearGradient>
</defs>
<rect width="550" height="799" fill="#fff"/>
<g stroke-width=".9" stroke-linejoin="round">
<polygon points="14.0,80.0 45.0,58.0 109.5,27.3 120.0,28.6 130.0,29.8 139.0,31.0 149.0,32.0 160.0,40.0 170.0,50.0 180.0,58.0 190.0,63.0 200.0,67.6 210.0,71.0 220.0,74.4 230.0,77.6 243.6,81.6 230.0,89.0 220.0,94.4 210.0,100.0 200.0,105.0 190.0,110.0 180.0,113.0 170.0,114.0 159.0,116.0 93.0,171.0" fill="#F1880F" />
<polygon points="45.0,58.0 109.5,27.3 113.6,61.4" fill="url(#g2)" stroke="url(#g2)"/>
<polygon points="85.0,103.0 14.0,80.0 45.0,58.0" fill="url(#g3)" stroke="url(#g3)"/>
<polygon points="85.0,103.0 45.0,58.0 113.6,61.4" fill="url(#g4)" stroke="url(#g4)"/>
<polygon points="85.0,103.0 113.6,61.4 135.0,89.0" fill="url(#g5)" stroke="url(#g5)"/>
<polygon points="85.0,103.0 135.0,89.0 159.0,116.0" fill="url(#g6)" stroke="url(#g6)"/>
<polygon points="85.0,103.0 159.0,116.0 93.0,171.0" fill="url(#g7)" stroke="url(#g7)"/>
<polygon points="85.0,103.0 93.0,171.0 14.0,80.0" fill="url(#g8)" stroke="url(#g8)"/>
<polygon points="109.5,27.3 115.1,28.0 118.5,42.5" fill="url(#g9)" stroke="url(#g9)"/>
<polygon points="109.5,27.3 118.5,42.5 111.2,42.3" fill="url(#g10)" stroke="url(#g10)"/>
<polygon points="111.2,42.3 118.5,42.5 121.8,57.3" fill="url(#g11)" stroke="url(#g11)"/>
<polygon points="111.2,42.3 121.8,57.3 113.1,57.2" fill="url(#g12)" stroke="url(#g12)"/>
<polygon points="113.1,57.2 121.8,57.3 129.9,69.8" fill="url(#g13)" stroke="url(#g13)"/>
<polygon points="113.1,57.2 129.9,69.8 120.2,70.0" fill="url(#g14)" stroke="url(#g14)"/>
<polygon points="120.2,70.0 129.9,69.8 140.0,81.3" fill="url(#g15)" stroke="url(#g15)"/>
<polygon points="120.2,70.0 140.0,81.3 129.5,81.9" fill="url(#g16)" stroke="url(#g16)"/>
<polygon points="129.5,81.9 140.0,81.3 150.4,92.4" fill="url(#g17)" stroke="url(#g17)"/>
<polygon points="129.5,81.9 150.4,92.4 139.0,93.5" fill="url(#g18)" stroke="url(#g18)"/>
<polygon points="139.0,93.5 150.4,92.4 161.2,103.1" fill="url(#g19)" stroke="url(#g19)"/>
<polygon points="139.0,93.5 161.2,103.1 149.0,104.7" fill="url(#g20)" stroke="url(#g20)"/>
<polygon points="149.0,104.7 161.2,103.1 172.0,113.8" fill="url(#g21)" stroke="url(#g21)"/>
<polygon points="149.0,104.7 172.0,113.8 159.0,116.0" fill="url(#g22)" stroke="url(#g22)"/>
<polygon points="115.1,28.0 120.8,28.7 125.8,42.8" fill="url(#g23)" stroke="url(#g23)"/>
<polygon points="115.1,28.0 125.8,42.8 118.5,42.5" fill="url(#g24)" stroke="url(#g24)"/>
<polygon points="118.5,42.5 125.8,42.8 130.6,57.3" fill="url(#g25)" stroke="url(#g25)"/>
<polygon points="118.5,42.5 130.6,57.3 121.8,57.3" fill="url(#g26)" stroke="url(#g26)"/>
<polygon points="121.8,57.3 130.6,57.3 139.6,69.6" fill="url(#g27)" stroke="url(#g27)"/>
<polygon points="121.8,57.3 139.6,69.6 129.9,69.8" fill="url(#g28)" stroke="url(#g28)"/>
<polygon points="129.9,69.8 139.6,69.6 150.4,80.8" fill="url(#g29)" stroke="url(#g29)"/>
<polygon points="129.9,69.8 150.4,80.8 140.0,81.3" fill="url(#g30)" stroke="url(#g30)"/>
<polygon points="140.0,81.3 150.4,80.8 161.7,91.3" fill="url(#g31)" stroke="url(#g31)"/>
<polygon points="140.0,81.3 161.7,91.3 150.4,92.4" fill="url(#g32)" stroke="url(#g32)"/>
<polygon points="150.4,92.4 161.7,91.3 173.3,101.5" fill="url(#g33)" stroke="url(#g33)"/>
<polygon points="150.4,92.4 173.3,101.5 161.2,103.1" fill="url(#g34)" stroke="url(#g34)"/>
<polygon points="161.2,103.1 173.3,101.5 184.9,111.5" fill="url(#g35)" stroke="url(#g35)"/>
<polygon points="161.2,103.1 184.9,111.5 172.0,113.8" fill="url(#g36)" stroke="url(#g36)"/>
<polygon points="120.8,28.7 126.4,29.4 132.9,42.7" fill="url(#g37)" stroke="url(#g37)"/>
<polygon points="120.8,28.7 132.9,42.7 125.8,42.8" fill="url(#g38)" stroke="url(#g38)"/>
<polygon points="125.8,42.8 132.9,42.7 139.1,56.5" fill="url(#g39)" stroke="url(#g39)"/>
<polygon points="125.8,42.8 139.1,56.5 130.6,57.3" fill="url(#g40)" stroke="url(#g40)"/>
<polygon points="130.6,57.3 139.1,56.5 148.9,68.2" fill="url(#g41)" stroke="url(#g41)"/>
<polygon points="130.6,57.3 148.9,68.2 139.6,69.6" fill="url(#g42)" stroke="url(#g42)"/>
<polygon points="139.6,69.6 148.9,68.2 160.4,78.6" fill="url(#g43)" stroke="url(#g43)"/>
<polygon points="139.6,69.6 160.4,78.6 150.4,80.8" fill="url(#g44)" stroke="url(#g44)"/>
<polygon points="150.4,80.8 160.4,78.6 172.4,88.2" fill="url(#g45)" stroke="url(#g45)"/>
<polygon points="150.4,80.8 172.4,88.2 161.7,91.3" fill="url(#g46)" stroke="url(#g46)"/>
<polygon points="161.7,91.3 172.4,88.2 184.7,97.4" fill="url(#g47)" stroke="url(#g47)"/>
<polygon points="161.7,91.3 184.7,97.4 173.3,101.5" fill="url(#g48)" stroke="url(#g48)"/>
<polygon points="173.3,101.5 184.7,97.4 197.1,106.5" fill="url(#g49)" stroke="url(#g49)"/>
<polygon points="173.3,101.5 197.1,106.5 184.9,111.5" fill="url(#g50)" stroke="url(#g50)"/>
<polygon points="126.4,29.4 132.1,30.1 140.1,42.4" fill="url(#g51)" stroke="url(#g51)"/>
<polygon points="126.4,29.4 140.1,42.4 132.9,42.7" fill="url(#g52)" stroke="url(#g52)"/>
<polygon points="132.9,42.7 140.1,42.4 147.5,55.5" fill="url(#g53)" stroke="url(#g53)"/>
<polygon points="132.9,42.7 147.5,55.5 139.1,56.5" fill="url(#g54)" stroke="url(#g54)"/>
<polygon points="139.1,56.5 147.5,55.5 158.1,66.5" fill="url(#g55)" stroke="url(#g55)"/>
<polygon points="139.1,56.5 158.1,66.5 148.9,68.2" fill="url(#g56)" stroke="url(#g56)"/>
<polygon points="148.9,68.2 158.1,66.5 170.3,76.0" fill="url(#g57)" stroke="url(#g57)"/>
<polygon points="148.9,68.2 170.3,76.0 160.4,78.6" fill="url(#g58)" stroke="url(#g58)"/>
<polygon points="160.4,78.6 170.3,76.0 182.9,84.5" fill="url(#g59)" stroke="url(#g59)"/>
<polygon points="160.4,78.6 182.9,84.5 172.4,88.2" fill="url(#g60)" stroke="url(#g60)"/>
<polygon points="172.4,88.2 182.9,84.5 195.9,92.6" fill="url(#g61)" stroke="url(#g61)"/>
<polygon points="172.4,88.2 195.9,92.6 184.7,97.4" fill="url(#g62)" stroke="url(#g62)"/>
<polygon points="184.7,97.4 195.9,92.6 208.9,100.6" fill="url(#g63)" stroke="url(#g63)"/>
<polygon points="184.7,97.4 208.9,100.6 197.1,106.5" fill="url(#g64)" stroke="url(#g64)"/>
<polygon points="132.1,30.1 137.7,30.8 147.1,42.1" fill="url(#g65)" stroke="url(#g65)"/>
<polygon points="132.1,30.1 147.1,42.1 140.1,42.4" fill="url(#g66)" stroke="url(#g66)"/>
<polygon points="140.1,42.4 147.1,42.1 155.8,54.4" fill="url(#g67)" stroke="url(#g67)"/>
<polygon points="140.1,42.4 155.8,54.4 147.5,55.5" fill="url(#g68)" stroke="url(#g68)"/>
<polygon points="147.5,55.5 155.8,54.4 167.1,64.6" fill="url(#g69)" stroke="url(#g69)"/>
<polygon points="147.5,55.5 167.1,64.6 158.1,66.5" fill="url(#g70)" stroke="url(#g70)"/>
<polygon points="158.1,66.5 167.1,64.6 179.9,73.1" fill="url(#g71)" stroke="url(#g71)"/>
<polygon points="158.1,66.5 179.9,73.1 170.3,76.0" fill="url(#g72)" stroke="url(#g72)"/>
<polygon points="170.3,76.0 179.9,73.1 193.3,80.4" fill="url(#g73)" stroke="url(#g73)"/>
<polygon points="170.3,76.0 193.3,80.4 182.9,84.5" fill="url(#g74)" stroke="url(#g74)"/>
<polygon points="182.9,84.5 193.3,80.4 206.8,87.4" fill="url(#g75)" stroke="url(#g75)"/>
<polygon points="182.9,84.5 206.8,87.4 195.9,92.6" fill="url(#g76)" stroke="url(#g76)"/>
<polygon points="195.9,92.6 206.8,87.4 220.4,94.2" fill="url(#g77)" stroke="url(#g77)"/>
<polygon points="195.9,92.6 220.4,94.2 208.9,100.6" fill="url(#g78)" stroke="url(#g78)"/>
<polygon points="137.7,30.8 143.3,31.4 154.2,41.8" fill="url(#g79)" stroke="url(#g79)"/>
<polygon points="137.7,30.8 154.2,41.8 147.1,42.1" fill="url(#g80)" stroke="url(#g80)"/>
<polygon points="147.1,42.1 154.2,41.8 164.2,53.3" fill="url(#g81)" stroke="url(#g81)"/>
<polygon points="147.1,42.1 164.2,53.3 155.8,54.4" fill="url(#g82)" stroke="url(#g82)"/>
<polygon points="155.8,54.4 164.2,53.3 176.2,62.7" fill="url(#g83)" stroke="url(#g83)"/>
<polygon points="155.8,54.4 176.2,62.7 167.1,64.6" fill="url(#g84)" stroke="url(#g84)"/>
<polygon points="167.1,64.6 176.2,62.7 189.6,70.2" fill="url(#g85)" stroke="url(#g85)"/>
<polygon points="167.1,64.6 189.6,70.2 179.9,73.1" fill="url(#g86)" stroke="url(#g86)"/>
<polygon points="179.9,73.1 189.6,70.2 203.6,76.4" fill="url(#g87)" stroke="url(#g87)"/>
<polygon points="179.9,73.1 203.6,76.4 193.3,80.4" fill="url(#g88)" stroke="url(#g88)"/>
<polygon points="193.3,80.4 203.6,76.4 217.8,82.3" fill="url(#g89)" stroke="url(#g89)"/>
<polygon points="193.3,80.4 217.8,82.3 206.8,87.4" fill="url(#g90)" stroke="url(#g90)"/>
<polygon points="206.8,87.4 217.8,82.3 232.0,87.9" fill="url(#g91)" stroke="url(#g91)"/>
<polygon points="206.8,87.4 232.0,87.9 220.4,94.2" fill="url(#g92)" stroke="url(#g92)"/>
<polygon points="143.3,31.4 149.0,32.0 161.3,41.3" fill="url(#g93)" stroke="url(#g93)"/>
<polygon points="143.3,31.4 161.3,41.3 154.2,41.8" fill="url(#g94)" stroke="url(#g94)"/>
<polygon points="154.2,41.8 161.3,41.3 172.6,52.0" fill="url(#g95)" stroke="url(#g95)"/>
<polygon points="154.2,41.8 172.6,52.0 164.2,53.3" fill="url(#g96)" stroke="url(#g96)"/>
<polygon points="164.2,53.3 172.6,52.0 185.3,60.7" fill="url(#g97)" stroke="url(#g97)"/>
<polygon points="164.2,53.3 185.3,60.7 176.2,62.7" fill="url(#g98)" stroke="url(#g98)"/>
<polygon points="176.2,62.7 185.3,60.7 199.3,67.3" fill="url(#g99)" stroke="url(#g99)"/>
<polygon points="176.2,62.7 199.3,67.3 189.6,70.2" fill="url(#g100)" stroke="url(#g100)"/>
<polygon points="189.6,70.2 199.3,67.3 214.0,72.4" fill="url(#g101)" stroke="url(#g101)"/>
<polygon points="189.6,70.2 214.0,72.4 203.6,76.4" fill="url(#g102)" stroke="url(#g102)"/>
<polygon points="203.6,76.4 214.0,72.4 228.7,77.2" fill="url(#g103)" stroke="url(#g103)"/>
<polygon points="203.6,76.4 228.7,77.2 217.8,82.3" fill="url(#g104)" stroke="url(#g104)"/>
<polygon points="217.8,82.3 228.7,77.2 243.6,81.6" fill="url(#g105)" stroke="url(#g105)"/>
<polygon points="217.8,82.3 243.6,81.6 232.0,87.9" fill="url(#g106)" stroke="url(#g106)"/>
<polygon points="45.0,58.0 109.5,27.3 113.6,61.4" fill="#000" opacity=".16"/>
<polygon points="14.0,80.0 45.0,58.0 113.6,61.4 135.0,89.0 159.0,116.0 93.0,171.0" fill="#000" opacity=".03"/>
<polygon points="109.5,27.3 111.5,45.0 113.6,61.4 135.0,89.0 159.0,116.0 170.0,114.0 180.0,113.0 190.0,110.0 200.0,105.0 210.0,100.0 220.0,94.4 230.0,89.0 243.6,81.6 230.0,77.6 220.0,74.4 210.0,71.0 200.0,67.6 190.0,63.0 180.0,58.0 170.0,50.0 160.0,40.0 149.0,32.0 139.0,31.0 130.0,29.8 120.0,28.6 109.5,27.3" fill="url(#g1)" />
<path d="M109.5 27.3L111.5 45.0L113.6 61.4L135.0 89.0L159.0 116.0" fill="none" stroke="#000" stroke-opacity="0.2" stroke-width="1.1"/>
<path d="M45.0 58.0L113.6 61.4" stroke="#000" stroke-opacity="0.12" stroke-width="1"/>
<polygon points="289.0,75.5 329.0,50.0 385.0,27.3 393.0,28.8 400.0,30.2 406.0,31.4 411.0,32.0 421.8,41.8 432.7,52.7 443.6,62.5 454.5,70.2 465.5,75.6 476.4,80.0 487.3,84.4 498.2,88.0 511.7,92.0 498.2,99.6 487.3,106.2 476.4,111.6 465.5,117.0 454.5,120.4 443.6,122.0 431.0,124.0 382.5,163.5" fill="#F1880F" />
<polygon points="329.0,50.0 385.0,27.3 393.0,63.0" fill="url(#g108)" stroke="url(#g108)"/>
<polygon points="365.0,100.0 289.0,75.5 329.0,50.0" fill="url(#g109)" stroke="url(#g109)"/>
<polygon points="365.0,100.0 329.0,50.0 393.0,63.0" fill="url(#g110)" stroke="url(#g110)"/>
<polygon points="365.0,100.0 393.0,63.0 400.4,74.4" fill="url(#g111)" stroke="url(#g111)"/>
<polygon points="365.0,100.0 400.4,74.4 414.6,98.0" fill="url(#g112)" stroke="url(#g112)"/>
<polygon points="365.0,100.0 414.6,98.0 431.0,124.0" fill="url(#g113)" stroke="url(#g113)"/>
<polygon points="365.0,100.0 431.0,124.0 382.5,163.5" fill="url(#g114)" stroke="url(#g114)"/>
<polygon points="365.0,100.0 382.5,163.5 289.0,75.5" fill="url(#g115)" stroke="url(#g115)"/>
<polygon points="385.0,27.3 388.7,28.0 393.8,42.9" fill="url(#g116)" stroke="url(#g116)"/>
<polygon points="385.0,27.3 393.8,42.9 388.6,42.4" fill="url(#g117)" stroke="url(#g117)"/>
<polygon points="388.6,42.4 393.8,42.9 398.4,58.0" fill="url(#g118)" stroke="url(#g118)"/>
<polygon points="388.6,42.4 398.4,58.0 391.9,57.5" fill="url(#g119)" stroke="url(#g119)"/>
<polygon points="391.9,57.5 398.4,58.0 406.0,71.7" fill="url(#g120)" stroke="url(#g120)"/>
<polygon points="391.9,57.5 406.0,71.7 398.4,71.3" fill="url(#g121)" stroke="url(#g121)"/>
<polygon points="398.4,71.3 406.0,71.7 415.1,84.6" fill="url(#g122)" stroke="url(#g122)"/>
<polygon points="398.4,71.3 415.1,84.6 406.5,84.5" fill="url(#g123)" stroke="url(#g123)"/>
<polygon points="406.5,84.5 415.1,84.6 424.4,97.3" fill="url(#g124)" stroke="url(#g124)"/>
<polygon points="406.5,84.5 424.4,97.3 414.5,97.8" fill="url(#g125)" stroke="url(#g125)"/>
<polygon points="414.5,97.8 424.4,97.3 433.9,109.7" fill="url(#g126)" stroke="url(#g126)"/>
<polygon points="414.5,97.8 433.9,109.7 422.7,110.9" fill="url(#g127)" stroke="url(#g127)"/>
<polygon points="422.7,110.9 433.9,109.7 443.4,122.0" fill="url(#g128)" stroke="url(#g128)"/>
<polygon points="422.7,110.9 443.4,122.0 431.0,124.0" fill="url(#g129)" stroke="url(#g129)"/>
<polygon points="388.7,28.0 392.4,28.7 398.9,43.5" fill="url(#g130)" stroke="url(#g130)"/>
<polygon points="388.7,28.0 398.9,43.5 393.8,42.9" fill="url(#g131)" stroke="url(#g131)"/>
<polygon points="393.8,42.9 398.9,43.5 404.9,58.4" fill="url(#g132)" stroke="url(#g132)"/>
<polygon points="393.8,42.9 404.9,58.4 398.4,58.0" fill="url(#g133)" stroke="url(#g133)"/>
<polygon points="398.4,58.0 404.9,58.4 413.5,72.1" fill="url(#g134)" stroke="url(#g134)"/>
<polygon points="398.4,58.0 413.5,72.1 406.0,71.7" fill="url(#g135)" stroke="url(#g135)"/>
<polygon points="406.0,71.7 413.5,72.1 423.8,84.7" fill="url(#g136)" stroke="url(#g136)"/>
<polygon points="406.0,71.7 423.8,84.7 415.1,84.6" fill="url(#g137)" stroke="url(#g137)"/>
<polygon points="415.1,84.6 423.8,84.7 434.2,96.7" fill="url(#g138)" stroke="url(#g138)"/>
<polygon points="415.1,84.6 434.2,96.7 424.4,97.3" fill="url(#g139)" stroke="url(#g139)"/>
<polygon points="424.4,97.3 434.2,96.7 445.0,108.5" fill="url(#g140)" stroke="url(#g140)"/>
<polygon points="424.4,97.3 445.0,108.5 433.9,109.7" fill="url(#g141)" stroke="url(#g141)"/>
<polygon points="433.9,109.7 445.0,108.5 455.8,120.0" fill="url(#g142)" stroke="url(#g142)"/>
<polygon points="433.9,109.7 455.8,120.0 443.4,122.0" fill="url(#g143)" stroke="url(#g143)"/>
<polygon points="392.4,28.7 396.1,29.4 403.9,43.8" fill="url(#g144)" stroke="url(#g144)"/>
<polygon points="392.4,28.7 403.9,43.8 398.9,43.5" fill="url(#g145)" stroke="url(#g145)"/>
<polygon points="398.9,43.5 403.9,43.8 411.3,58.3" fill="url(#g146)" stroke="url(#g146)"/>
<polygon points="398.9,43.5 411.3,58.3 404.9,58.4" fill="url(#g147)" stroke="url(#g147)"/>
<polygon points="404.9,58.4 411.3,58.3 420.9,71.6" fill="url(#g148)" stroke="url(#g148)"/>
<polygon points="404.9,58.4 420.9,71.6 413.5,72.1" fill="url(#g149)" stroke="url(#g149)"/>
<polygon points="413.5,72.1 420.9,71.6 432.1,83.6" fill="url(#g150)" stroke="url(#g150)"/>
<polygon points="413.5,72.1 432.1,83.6 423.8,84.7" fill="url(#g151)" stroke="url(#g151)"/>
<polygon points="423.8,84.7 432.1,83.6 443.7,94.8" fill="url(#g152)" stroke="url(#g152)"/>
<polygon points="423.8,84.7 443.7,94.8 434.2,96.7" fill="url(#g153)" stroke="url(#g153)"/>
<polygon points="434.2,96.7 443.7,94.8 455.6,105.6" fill="url(#g154)" stroke="url(#g154)"/>
<polygon points="434.2,96.7 455.6,105.6 445.0,108.5" fill="url(#g155)" stroke="url(#g155)"/>
<polygon points="445.0,108.5 455.6,105.6 467.6,116.0" fill="url(#g156)" stroke="url(#g156)"/>
<polygon points="445.0,108.5 467.6,116.0 455.8,120.0" fill="url(#g157)" stroke="url(#g157)"/>
<polygon points="396.1,29.4 399.8,30.2 408.8,43.9" fill="url(#g158)" stroke="url(#g158)"/>
<polygon points="396.1,29.4 408.8,43.9 403.9,43.8" fill="url(#g159)" stroke="url(#g159)"/>
<polygon points="403.9,43.8 408.8,43.9 417.5,57.8" fill="url(#g160)" stroke="url(#g160)"/>
<polygon points="403.9,43.8 417.5,57.8 411.3,58.3" fill="url(#g161)" stroke="url(#g161)"/>
<polygon points="411.3,58.3 417.5,57.8 428.0,70.5" fill="url(#g162)" stroke="url(#g162)"/>
<polygon points="411.3,58.3 428.0,70.5 420.9,71.6" fill="url(#g163)" stroke="url(#g163)"/>
<polygon points="420.9,71.6 428.0,70.5 440.1,81.6" fill="url(#g164)" stroke="url(#g164)"/>
<polygon points="420.9,71.6 440.1,81.6 432.1,83.6" fill="url(#g165)" stroke="url(#g165)"/>
<polygon points="432.1,83.6 440.1,81.6 452.8,91.7" fill="url(#g166)" stroke="url(#g166)"/>
<polygon points="432.1,83.6 452.8,91.7 443.7,94.8" fill="url(#g167)" stroke="url(#g167)"/>
<polygon points="443.7,94.8 452.8,91.7 465.7,101.3" fill="url(#g168)" stroke="url(#g168)"/>
<polygon points="443.7,94.8 465.7,101.3 455.6,105.6" fill="url(#g169)" stroke="url(#g169)"/>
<polygon points="455.6,105.6 465.7,101.3 478.9,110.4" fill="url(#g170)" stroke="url(#g170)"/>
<polygon points="455.6,105.6 478.9,110.4 467.6,116.0" fill="url(#g171)" stroke="url(#g171)"/>
<polygon points="399.8,30.2 403.5,30.9 413.7,43.9" fill="url(#g172)" stroke="url(#g172)"/>
<polygon points="399.8,30.2 413.7,43.9 408.8,43.9" fill="url(#g173)" stroke="url(#g173)"/>
<polygon points="408.8,43.9 413.7,43.9 423.6,57.2" fill="url(#g174)" stroke="url(#g174)"/>
<polygon points="408.8,43.9 423.6,57.2 417.5,57.8" fill="url(#g175)" stroke="url(#g175)"/>
<polygon points="417.5,57.8 423.6,57.2 435.0,69.3" fill="url(#g176)" stroke="url(#g176)"/>
<polygon points="417.5,57.8 435.0,69.3 428.0,70.5" fill="url(#g177)" stroke="url(#g177)"/>
<polygon points="428.0,70.5 435.0,69.3 448.1,79.6" fill="url(#g178)" stroke="url(#g178)"/>
<polygon points="428.0,70.5 448.1,79.6 440.1,81.6" fill="url(#g179)" stroke="url(#g179)"/>
<polygon points="440.1,81.6 448.1,79.6 461.8,88.5" fill="url(#g180)" stroke="url(#g180)"/>
<polygon points="440.1,81.6 461.8,88.5 452.8,91.7" fill="url(#g181)" stroke="url(#g181)"/>
<polygon points="452.8,91.7 461.8,88.5 475.8,96.9" fill="url(#g182)" stroke="url(#g182)"/>
<polygon points="452.8,91.7 475.8,96.9 465.7,101.3" fill="url(#g183)" stroke="url(#g183)"/>
<polygon points="465.7,101.3 475.8,96.9 490.0,104.6" fill="url(#g184)" stroke="url(#g184)"/>
<polygon points="465.7,101.3 490.0,104.6 478.9,110.4" fill="url(#g185)" stroke="url(#g185)"/>
<polygon points="403.5,30.9 407.3,31.6 418.6,43.8" fill="url(#g186)" stroke="url(#g186)"/>
<polygon points="403.5,30.9 418.6,43.8 413.7,43.9" fill="url(#g187)" stroke="url(#g187)"/>
<polygon points="413.7,43.9 418.6,43.8 429.6,56.3" fill="url(#g188)" stroke="url(#g188)"/>
<polygon points="413.7,43.9 429.6,56.3 423.6,57.2" fill="url(#g189)" stroke="url(#g189)"/>
<polygon points="423.6,57.2 429.6,56.3 441.9,67.8" fill="url(#g190)" stroke="url(#g190)"/>
<polygon points="423.6,57.2 441.9,67.8 435.0,69.3" fill="url(#g191)" stroke="url(#g191)"/>
<polygon points="435.0,69.3 441.9,67.8 455.8,77.1" fill="url(#g192)" stroke="url(#g192)"/>
<polygon points="435.0,69.3 455.8,77.1 448.1,79.6" fill="url(#g193)" stroke="url(#g193)"/>
<polygon points="448.1,79.6 455.8,77.1 470.5,84.8" fill="url(#g194)" stroke="url(#g194)"/>
<polygon points="448.1,79.6 470.5,84.8 461.8,88.5" fill="url(#g195)" stroke="url(#g195)"/>
<polygon points="461.8,88.5 470.5,84.8 485.5,91.9" fill="url(#g196)" stroke="url(#g196)"/>
<polygon points="461.8,88.5 485.5,91.9 475.8,96.9" fill="url(#g197)" stroke="url(#g197)"/>
<polygon points="475.8,96.9 485.5,91.9 500.8,98.2" fill="url(#g198)" stroke="url(#g198)"/>
<polygon points="475.8,96.9 500.8,98.2 490.0,104.6" fill="url(#g199)" stroke="url(#g199)"/>
<polygon points="407.3,31.6 411.0,32.0 423.5,43.5" fill="url(#g200)" stroke="url(#g200)"/>
<polygon points="407.3,31.6 423.5,43.5 418.6,43.8" fill="url(#g201)" stroke="url(#g201)"/>
<polygon points="418.6,43.8 423.5,43.5 435.7,55.4" fill="url(#g202)" stroke="url(#g202)"/>
<polygon points="418.6,43.8 435.7,55.4 429.6,56.3" fill="url(#g203)" stroke="url(#g203)"/>
<polygon points="429.6,56.3 435.7,55.4 448.9,66.2" fill="url(#g204)" stroke="url(#g204)"/>
<polygon points="429.6,56.3 448.9,66.2 441.9,67.8" fill="url(#g205)" stroke="url(#g205)"/>
<polygon points="441.9,67.8 448.9,66.2 463.6,74.7" fill="url(#g206)" stroke="url(#g206)"/>
<polygon points="441.9,67.8 463.6,74.7 455.8,77.1" fill="url(#g207)" stroke="url(#g207)"/>
<polygon points="455.8,77.1 463.6,74.7 479.4,81.2" fill="url(#g208)" stroke="url(#g208)"/>
<polygon points="455.8,77.1 479.4,81.2 470.5,84.8" fill="url(#g209)" stroke="url(#g209)"/>
<polygon points="470.5,84.8 479.4,81.2 495.4,87.1" fill="url(#g210)" stroke="url(#g210)"/>
<polygon points="470.5,84.8 495.4,87.1 485.5,91.9" fill="url(#g211)" stroke="url(#g211)"/>
<polygon points="485.5,91.9 495.4,87.1 511.7,92.0" fill="url(#g212)" stroke="url(#g212)"/>
<polygon points="485.5,91.9 511.7,92.0 500.8,98.2" fill="url(#g213)" stroke="url(#g213)"/>
<polygon points="329.0,50.0 385.0,27.3 393.0,63.0" fill="#000" opacity=".16"/>
<polygon points="289.0,75.5 329.0,50.0 393.0,63.0 400.4,74.4 414.6,98.0 431.0,124.0 382.5,163.5" fill="#000" opacity=".03"/>
<polygon points="385.0,27.3 390.5,50.0 393.0,63.0 400.4,74.4 414.6,98.0 431.0,124.0 443.6,122.0 454.5,120.4 465.5,117.0 476.4,111.6 487.3,106.2 498.2,99.6 511.7,92.0 498.2,88.0 487.3,84.4 476.4,80.0 465.5,75.6 454.5,70.2 443.6,62.5 432.7,52.7 421.8,41.8 411.0,32.0 406.0,31.4 400.0,30.2 393.0,28.8 385.0,27.3" fill="url(#g107)" />
<path d="M385.0 27.3L390.5 50.0L393.0 63.0L400.4 74.4L414.6 98.0L431.0 124.0" fill="none" stroke="#000" stroke-opacity="0.07" stroke-width="1.1"/>
<path d="M329.0 50.0L393.0 63.0" stroke="#000" stroke-opacity="0.042" stroke-width="1"/>
<polygon points="108.0,189.0 153.0,192.0 237.0,216.5 211.0,237.0 112.0,355.5 75.0,321.5 14.0,313.0 22.0,300.0 94.0,199.0" fill="#E0E30F" />
<polygon points="108.0,189.0 153.0,192.0 108.0,227.0" fill="url(#g214)" stroke="url(#g214)"/>
<polygon points="153.0,192.0 211.0,237.0 108.0,227.0" fill="url(#g215)" stroke="url(#g215)"/>
<polygon points="153.0,192.0 237.0,216.5 211.0,237.0" fill="url(#g216)" stroke="url(#g216)"/>
<polygon points="108.0,227.0 211.0,237.0 192.0,260.0" fill="url(#g217)" stroke="url(#g217)"/>
<polygon points="108.0,227.0 192.0,260.0 102.4,243.0" fill="url(#g218)" stroke="url(#g218)"/>
<polygon points="102.4,243.0 192.0,260.0 170.0,287.0" fill="url(#g219)" stroke="url(#g219)"/>
<polygon points="102.4,243.0 170.0,287.0 95.8,262.0" fill="url(#g220)" stroke="url(#g220)"/>
<polygon points="95.8,262.0 170.0,287.0 150.0,311.0" fill="url(#g221)" stroke="url(#g221)"/>
<polygon points="95.8,262.0 150.0,311.0 88.6,282.6" fill="url(#g222)" stroke="url(#g222)"/>
<polygon points="88.6,282.6 150.0,311.0 130.0,335.0" fill="url(#g223)" stroke="url(#g223)"/>
<polygon points="88.6,282.6 130.0,335.0 82.0,301.5" fill="url(#g224)" stroke="url(#g224)"/>
<polygon points="82.0,301.5 130.0,335.0 112.0,355.5" fill="url(#g225)" stroke="url(#g225)"/>
<polygon points="82.0,301.5 112.0,355.5 75.0,321.5" fill="url(#g226)" stroke="url(#g226)"/>
<polygon points="14.0,313.0 17.0,308.1 17.0,313.4" fill="url(#g227)" stroke="url(#g227)"/>
<polygon points="14.0,313.0 17.0,313.4 14.0,313.2" fill="url(#g228)" stroke="url(#g228)"/>
<polygon points="17.0,308.1 19.0,304.9 19.0,313.7" fill="url(#g229)" stroke="url(#g229)"/>
<polygon points="17.0,308.1 19.0,313.7 17.0,313.4" fill="url(#g230)" stroke="url(#g230)"/>
<polygon points="19.0,304.9 22.0,300.0 22.0,314.1" fill="url(#g231)" stroke="url(#g231)"/>
<polygon points="19.0,304.9 22.0,314.1 19.0,313.7" fill="url(#g232)" stroke="url(#g232)"/>
<polygon points="22.0,300.0 24.0,297.2 24.0,314.4" fill="url(#g233)" stroke="url(#g233)"/>
<polygon points="22.0,300.0 24.0,314.4 22.0,314.1" fill="url(#g234)" stroke="url(#g234)"/>
<polygon points="24.0,297.2 28.0,291.6 28.0,315.0" fill="url(#g235)" stroke="url(#g235)"/>
<polygon points="24.0,297.2 28.0,315.0 24.0,314.4" fill="url(#g236)" stroke="url(#g236)"/>
<polygon points="28.0,291.6 32.0,286.0 32.0,315.5" fill="url(#g237)" stroke="url(#g237)"/>
<polygon points="28.0,291.6 32.0,315.5 28.0,315.0" fill="url(#g238)" stroke="url(#g238)"/>
<polygon points="32.0,286.0 37.0,279.0 37.0,316.2" fill="url(#g239)" stroke="url(#g239)"/>
<polygon points="32.0,286.0 37.0,316.2 32.0,315.5" fill="url(#g240)" stroke="url(#g240)"/>
<polygon points="37.0,279.0 43.0,270.5 43.0,317.0" fill="url(#g241)" stroke="url(#g241)"/>
<polygon points="37.0,279.0 43.0,317.0 37.0,316.2" fill="url(#g242)" stroke="url(#g242)"/>
<polygon points="43.0,270.5 49.0,262.1 49.0,317.9" fill="url(#g243)" stroke="url(#g243)"/>
<polygon points="43.0,270.5 49.0,317.9 43.0,317.0" fill="url(#g244)" stroke="url(#g244)"/>
<polygon points="49.0,262.1 55.0,253.7 55.0,318.7" fill="url(#g245)" stroke="url(#g245)"/>
<polygon points="49.0,262.1 55.0,318.7 49.0,317.9" fill="url(#g246)" stroke="url(#g246)"/>
<polygon points="55.0,253.7 62.0,243.9 62.0,319.7" fill="url(#g247)" stroke="url(#g247)"/>
<polygon points="55.0,253.7 62.0,319.7 55.0,318.7" fill="url(#g248)" stroke="url(#g248)"/>
<polygon points="62.0,243.9 70.0,232.7 70.0,320.8" fill="url(#g249)" stroke="url(#g249)"/>
<polygon points="62.0,243.9 70.0,320.8 62.0,319.7" fill="url(#g250)" stroke="url(#g250)"/>
<polygon points="70.0,232.7 75.0,225.7 75.0,321.5" fill="url(#g251)" stroke="url(#g251)"/>
<polygon points="70.0,232.7 75.0,321.5 70.0,320.8" fill="url(#g252)" stroke="url(#g252)"/>
<polygon points="75.0,225.7 80.0,218.6 80.0,307.2" fill="url(#g253)" stroke="url(#g253)"/>
<polygon points="75.0,225.7 80.0,307.2 75.0,321.5" fill="url(#g254)" stroke="url(#g254)"/>
<polygon points="80.0,218.6 87.0,208.8 87.0,287.1" fill="url(#g255)" stroke="url(#g255)"/>
<polygon points="80.0,218.6 87.0,287.1 80.0,307.2" fill="url(#g256)" stroke="url(#g256)"/>
<polygon points="87.0,208.8 94.0,199.0 94.0,267.1" fill="url(#g257)" stroke="url(#g257)"/>
<polygon points="87.0,208.8 94.0,267.1 87.0,287.1" fill="url(#g258)" stroke="url(#g258)"/>
<polygon points="94.0,199.0 101.0,194.0 101.0,247.0" fill="url(#g259)" stroke="url(#g259)"/>
<polygon points="94.0,199.0 101.0,247.0 94.0,267.1" fill="url(#g260)" stroke="url(#g260)"/>
<polygon points="101.0,194.0 108.0,189.0 108.0,227.0" fill="url(#g261)" stroke="url(#g261)"/>
<polygon points="101.0,194.0 108.0,227.0 101.0,247.0" fill="url(#g262)" stroke="url(#g262)"/>
<polygon points="108.0,189.0 153.0,192.0 237.0,216.5 211.0,237.0 108.0,227.0" fill="url(#g263)" />
<polygon points="108.0,189.0 94.0,199.0 22.0,300.0 14.0,313.0 75.0,321.5 108.0,227.0" fill="#000" opacity=".12"/>
<polygon points="108.0,189.0 108.0,227.0 75.0,321.5 63.0,320.0 96.0,229.0 101.0,194.0" fill="url(#g264)" />
<path d="M108 189L108 227L75 321.5" fill="none" stroke="#000" stroke-opacity=".18" stroke-width="1"/>
<polygon points="374.3,187.0 427.0,190.0 505.7,234.0 351.0,355.5 331.3,337.5 315.0,316.7 301.0,298.0 295.4,290.0 299.0,284.0 331.3,242.5" fill="#9CE010" />
<polygon points="374.3,187.0 427.0,190.0 381.0,226.0" fill="url(#g265)" stroke="url(#g265)"/>
<polygon points="427.0,190.0 505.7,234.0 381.0,226.0" fill="url(#g266)" stroke="url(#g266)"/>
<polygon points="381.0,226.0 505.7,234.0 470.0,262.0" fill="url(#g267)" stroke="url(#g267)"/>
<polygon points="381.0,226.0 470.0,262.0 377.7,240.0" fill="url(#g268)" stroke="url(#g268)"/>
<polygon points="377.7,240.0 470.0,262.0 440.0,285.5" fill="url(#g269)" stroke="url(#g269)"/>
<polygon points="377.7,240.0 440.0,285.5 371.9,265.0" fill="url(#g270)" stroke="url(#g270)"/>
<polygon points="371.9,265.0 440.0,285.5 408.0,310.5" fill="url(#g271)" stroke="url(#g271)"/>
<polygon points="371.9,265.0 408.0,310.5 365.0,295.0" fill="url(#g272)" stroke="url(#g272)"/>
<polygon points="365.0,295.0 408.0,310.5 375.0,336.5" fill="url(#g273)" stroke="url(#g273)"/>
<polygon points="365.0,295.0 375.0,336.5 357.4,328.0" fill="url(#g274)" stroke="url(#g274)"/>
<polygon points="357.4,328.0 375.0,336.5 351.0,355.5" fill="url(#g275)" stroke="url(#g275)"/>
<polygon points="295.4,290.0 298.0,285.7 298.0,293.7" fill="url(#g276)" stroke="url(#g276)"/>
<polygon points="295.4,290.0 298.0,293.7 295.4,290.2" fill="url(#g277)" stroke="url(#g277)"/>
<polygon points="298.0,285.7 301.0,281.4 301.0,298.0" fill="url(#g278)" stroke="url(#g278)"/>
<polygon points="298.0,285.7 301.0,298.0 298.0,293.7" fill="url(#g279)" stroke="url(#g279)"/>
<polygon points="301.0,281.4 304.0,277.6 304.0,302.0" fill="url(#g280)" stroke="url(#g280)"/>
<polygon points="301.0,281.4 304.0,302.0 301.0,298.0" fill="url(#g281)" stroke="url(#g281)"/>
<polygon points="304.0,277.6 308.0,272.4 308.0,307.4" fill="url(#g282)" stroke="url(#g282)"/>
<polygon points="304.0,277.6 308.0,307.4 304.0,302.0" fill="url(#g283)" stroke="url(#g283)"/>
<polygon points="308.0,272.4 312.0,267.3 312.0,312.7" fill="url(#g284)" stroke="url(#g284)"/>
<polygon points="308.0,272.4 312.0,312.7 308.0,307.4" fill="url(#g285)" stroke="url(#g285)"/>
<polygon points="312.0,267.3 317.0,260.8 317.0,319.3" fill="url(#g286)" stroke="url(#g286)"/>
<polygon points="312.0,267.3 317.0,319.3 312.0,312.7" fill="url(#g287)" stroke="url(#g287)"/>
<polygon points="317.0,260.8 322.0,254.4 322.0,325.6" fill="url(#g288)" stroke="url(#g288)"/>
<polygon points="317.0,260.8 322.0,325.6 317.0,319.3" fill="url(#g289)" stroke="url(#g289)"/>
<polygon points="322.0,254.4 326.0,249.2 326.0,330.7" fill="url(#g290)" stroke="url(#g290)"/>
<polygon points="322.0,254.4 326.0,330.7 322.0,325.6" fill="url(#g291)" stroke="url(#g291)"/>
<polygon points="326.0,249.2 331.0,242.8 331.0,337.1" fill="url(#g292)" stroke="url(#g292)"/>
<polygon points="326.0,249.2 331.0,337.1 326.0,330.7" fill="url(#g293)" stroke="url(#g293)"/>
<polygon points="331.0,242.8 335.0,237.6 335.0,340.9" fill="url(#g294)" stroke="url(#g294)"/>
<polygon points="331.0,242.8 335.0,340.9 331.0,337.1" fill="url(#g295)" stroke="url(#g295)"/>
<polygon points="335.0,237.6 340.0,231.2 340.0,345.6" fill="url(#g296)" stroke="url(#g296)"/>
<polygon points="335.0,237.6 340.0,345.6 335.0,340.9" fill="url(#g297)" stroke="url(#g297)"/>
<polygon points="340.0,231.2 345.0,224.7 345.0,350.3" fill="url(#g298)" stroke="url(#g298)"/>
<polygon points="340.0,231.2 345.0,350.3 340.0,345.6" fill="url(#g299)" stroke="url(#g299)"/>
<polygon points="345.0,224.7 351.0,217.0 351.0,355.5" fill="url(#g300)" stroke="url(#g300)"/>
<polygon points="345.0,224.7 351.0,355.5 345.0,350.3" fill="url(#g301)" stroke="url(#g301)"/>
<polygon points="351.0,217.0 356.0,210.6 356.0,333.9" fill="url(#g302)" stroke="url(#g302)"/>
<polygon points="351.0,217.0 356.0,333.9 351.0,355.5" fill="url(#g303)" stroke="url(#g303)"/>
<polygon points="356.0,210.6 362.0,202.8 362.0,308.0" fill="url(#g304)" stroke="url(#g304)"/>
<polygon points="356.0,210.6 362.0,308.0 356.0,333.9" fill="url(#g305)" stroke="url(#g305)"/>
<polygon points="362.0,202.8 368.0,195.1 368.0,282.1" fill="url(#g306)" stroke="url(#g306)"/>
<polygon points="362.0,202.8 368.0,282.1 362.0,308.0" fill="url(#g307)" stroke="url(#g307)"/>
<polygon points="368.0,195.1 374.3,187.0 374.3,254.9" fill="url(#g308)" stroke="url(#g308)"/>
<polygon points="368.0,195.1 374.3,254.9 368.0,282.1" fill="url(#g309)" stroke="url(#g309)"/>
<polygon points="374.3,187.0 381.0,226.0 374.3,254.9" fill="url(#g310)" stroke="url(#g310)"/>
<polygon points="374.3,187.0 427.0,190.0 505.7,234.0 381.0,226.0" fill="url(#g311)" />
<polygon points="374.3,187.0 331.3,242.5 299.0,284.0 295.4,290.0 301.0,298.0 315.0,316.7 331.3,337.5 351.0,355.5 381.0,226.0" fill="#000" opacity=".10"/>
<polygon points="374.3,187.0 381.0,226.0 351.0,355.5 338.0,343.0 365.0,228.0 364.0,199.0" fill="url(#g312)" />
<path d="M374.3 187L381 226L351 355.5" fill="none" stroke="#000" stroke-opacity=".18" stroke-width="1"/>
</g>
<g style="mix-blend-mode:multiply">
<polygon points="14.0,80.0 45.0,58.0 109.5,27.3 120.0,28.6 130.0,29.8 139.0,31.0 149.0,32.0 160.0,40.0 170.0,50.0 180.0,58.0 190.0,63.0 200.0,67.6 210.0,71.0 220.0,74.4 230.0,77.6 243.6,81.6 230.0,89.0 220.0,94.4 210.0,100.0 200.0,105.0 190.0,110.0 180.0,113.0 170.0,114.0 159.0,116.0 93.0,171.0" fill="#fff" filter="url(#tex)"/>
<polygon points="289.0,75.5 329.0,50.0 385.0,27.3 393.0,28.8 400.0,30.2 406.0,31.4 411.0,32.0 421.8,41.8 432.7,52.7 443.6,62.5 454.5,70.2 465.5,75.6 476.4,80.0 487.3,84.4 498.2,88.0 511.7,92.0 498.2,99.6 487.3,106.2 476.4,111.6 465.5,117.0 454.5,120.4 443.6,122.0 431.0,124.0 382.5,163.5" fill="#fff" filter="url(#tex)"/>
<polygon points="108.0,189.0 153.0,192.0 237.0,216.5 211.0,237.0 112.0,355.5 75.0,321.5 14.0,313.0 22.0,300.0 94.0,199.0" fill="#fff" filter="url(#tex)"/>
<polygon points="374.3,187.0 427.0,190.0 505.7,234.0 351.0,355.5 331.3,337.5 315.0,316.7 301.0,298.0 295.4,290.0 299.0,284.0 331.3,242.5" fill="#fff" filter="url(#tex)"/>
<g transform="rotate(0 0 0)" opacity="1"><polygon points="109.5,27.3 111.2,42.3 113.1,57.2 120.2,70.0 129.5,81.9 139.0,93.5 149.0,104.7 159.0,116.0 184.9,111.5 173.3,101.5 161.7,91.3 150.4,80.8 139.6,69.6 130.6,57.3 125.8,42.8 120.8,28.7" fill="#fff" filter="url(#tex2)"/></g>
<g transform="rotate(0 0 0)" opacity="1"><polygon points="385.0,27.3 388.6,42.4 391.9,57.5 398.4,71.3 406.5,84.5 414.5,97.8 422.7,110.9 431.0,124.0 455.8,120.0 445.0,108.5 434.2,96.7 423.8,84.7 413.5,72.1 404.9,58.4 398.9,43.5 392.4,28.7" fill="#fff" filter="url(#tex2)"/></g>
<g transform="rotate(19.2 75 260)" opacity="1"><polygon points="82.8,182.1 95.3,218.0 95.2,318.1 60.5,324.9 72.9,196.1" fill="#fff" filter="url(#tex3)"/></g>
<g transform="rotate(13 350 270)" opacity="1"><polygon points="355.0,183.7 370.3,220.2 370.2,353.1 335.3,330.9 331.5,234.2" fill="#fff" filter="url(#tex3)"/></g>
</g>
<rect x="267.0" y="47.0" width="4.2" height="121.0" fill="url(#cb)"/>
<g font-size="5.0" fill="#444" text-anchor="end"><text x="264.8" y="54.8">50</text><rect x="265.4" y="52.6" width="1.6" height=".7" opacity=".7"/><text x="264.8" y="65.1">0</text><rect x="265.4" y="62.9" width="1.6" height=".7" opacity=".7"/><text x="264.8" y="75.4">-50</text><rect x="265.4" y="73.2" width="1.6" height=".7" opacity=".7"/><text x="264.8" y="85.7">-100</text><rect x="265.4" y="83.6" width="1.6" height=".7" opacity=".7"/><text x="264.8" y="96.0">-150</text><rect x="265.4" y="93.9" width="1.6" height=".7" opacity=".7"/><text x="264.8" y="106.3">-200</text><rect x="265.4" y="104.2" width="1.6" height=".7" opacity=".7"/><text x="264.8" y="116.6">-250</text><rect x="265.4" y="114.5" width="1.6" height=".7" opacity=".7"/><text x="264.8" y="126.9">-300</text><rect x="265.4" y="124.8" width="1.6" height=".7" opacity=".7"/><text x="264.8" y="137.2">-350</text><rect x="265.4" y="135.1" width="1.6" height=".7" opacity=".7"/><text x="264.8" y="147.5">-400</text><rect x="265.4" y="145.3" width="1.6" height=".7" opacity=".7"/><text x="264.8" y="157.8">-450</text><rect x="265.4" y="155.7" width="1.6" height=".7" opacity=".7"/><text x="264.8" y="168.1">-500</text><rect x="265.4" y="166.0" width="1.6" height=".7" opacity=".7"/><text x="263.0" y="35.5" font-size="5.20">Height</text><text x="271.6" y="41.0" font-size="5.20">µm</text></g>
<rect x="534.5" y="46.0" width="4.3" height="117.2" fill="url(#cb)"/>
<g font-size="5.0" fill="#3a3a3a" text-anchor="end"><text x="532.3" y="56.5">50</text><rect x="532.9" y="54.4" width="1.6" height=".7" opacity=".7"/><text x="532.3" y="66.3">0</text><rect x="532.9" y="64.2" width="1.6" height=".7" opacity=".7"/><text x="532.3" y="76.1">-50</text><rect x="532.9" y="74.0" width="1.6" height=".7" opacity=".7"/><text x="532.3" y="85.9">-100</text><rect x="532.9" y="83.8" width="1.6" height=".7" opacity=".7"/><text x="532.3" y="95.7">-150</text><rect x="532.9" y="93.6" width="1.6" height=".7" opacity=".7"/><text x="532.3" y="105.5">-200</text><rect x="532.9" y="103.4" width="1.6" height=".7" opacity=".7"/><text x="532.3" y="115.3">-250</text><rect x="532.9" y="113.2" width="1.6" height=".7" opacity=".7"/><text x="532.3" y="125.1">-300</text><rect x="532.9" y="123.0" width="1.6" height=".7" opacity=".7"/><text x="532.3" y="134.9">-350</text><rect x="532.9" y="132.8" width="1.6" height=".7" opacity=".7"/><text x="532.3" y="144.7">-400</text><rect x="532.9" y="142.5" width="1.6" height=".7" opacity=".7"/><text x="532.3" y="154.5">-450</text><rect x="532.9" y="152.3" width="1.6" height=".7" opacity=".7"/><text x="532.3" y="164.3">-500</text><rect x="532.9" y="162.2" width="1.6" height=".7" opacity=".7"/><text x="530.2" y="35.3" font-size="4.80">Height</text><text x="539.8" y="41.0" font-size="4.80">µm</text></g>
<rect x="263.7" y="210.0" width="5.3" height="138.4" fill="url(#cb)"/>
<g font-size="5.8" fill="#222" text-anchor="end"><text x="261.5" y="219.4">0</text><rect x="262.1" y="217.0" width="1.6" height=".7" opacity=".7"/><text x="261.5" y="228.7">-0.1</text><rect x="262.1" y="226.2" width="1.6" height=".7" opacity=".7"/><text x="261.5" y="237.9">-0.2</text><rect x="262.1" y="235.5" width="1.6" height=".7" opacity=".7"/><text x="261.5" y="247.2">-0.3</text><rect x="262.1" y="244.7" width="1.6" height=".7" opacity=".7"/><text x="261.5" y="256.4">-0.4</text><rect x="262.1" y="254.0" width="1.6" height=".7" opacity=".7"/><text x="261.5" y="265.7">-0.5</text><rect x="262.1" y="263.3" width="1.6" height=".7" opacity=".7"/><text x="261.5" y="275.0">-0.6</text><rect x="262.1" y="272.5" width="1.6" height=".7" opacity=".7"/><text x="261.5" y="284.2">-0.7</text><rect x="262.1" y="281.8" width="1.6" height=".7" opacity=".7"/><text x="261.5" y="293.5">-0.8</text><rect x="262.1" y="291.1" width="1.6" height=".7" opacity=".7"/><text x="261.5" y="302.8">-0.9</text><rect x="262.1" y="300.3" width="1.6" height=".7" opacity=".7"/><text x="261.5" y="312.0">-1</text><rect x="262.1" y="309.6" width="1.6" height=".7" opacity=".7"/><text x="261.5" y="321.3">-1.1</text><rect x="262.1" y="318.9" width="1.6" height=".7" opacity=".7"/><text x="261.5" y="330.6">-1.2</text><rect x="262.1" y="328.1" width="1.6" height=".7" opacity=".7"/><text x="261.5" y="339.8">-1.3</text><rect x="262.1" y="337.4" width="1.6" height=".7" opacity=".7"/><text x="261.5" y="349.1">-1.4</text><rect x="262.1" y="346.6" width="1.6" height=".7" opacity=".7"/><text x="257.5" y="197.0" font-size="5.10">Height</text><text x="269.0" y="203.0" font-size="5.10">mm</text></g>
<rect x="531.2" y="209.0" width="5.4" height="137.7" fill="url(#cb)"/>
<g font-size="5.2" fill="#333" text-anchor="end"><text x="529.0" y="220.9">200</text><rect x="529.6" y="218.7" width="1.6" height=".7" opacity=".7"/><text x="529.0" y="238.6">0</text><rect x="529.6" y="236.4" width="1.6" height=".7" opacity=".7"/><text x="529.0" y="256.3">-200</text><rect x="529.6" y="254.1" width="1.6" height=".7" opacity=".7"/><text x="529.0" y="274.0">-400</text><rect x="529.6" y="271.8" width="1.6" height=".7" opacity=".7"/><text x="529.0" y="291.7">-600</text><rect x="529.6" y="289.5" width="1.6" height=".7" opacity=".7"/><text x="529.0" y="309.4">-800</text><rect x="529.6" y="307.2" width="1.6" height=".7" opacity=".7"/><text x="529.0" y="327.2">-1000</text><rect x="529.6" y="324.9" width="1.6" height=".7" opacity=".7"/><text x="529.0" y="344.9">-1200</text><rect x="529.6" y="342.6" width="1.6" height=".7" opacity=".7"/><text x="526.0" y="196.0" font-size="5.60">Height</text><text x="537.0" y="203.0" font-size="5.60">µm</text></g>
<path d="M280.1 14L282.1 371.7" stroke="#333" stroke-width="1.5" fill="none"/>
<g font-weight="bold" font-size="23" fill="#000"><text x="20.6" y="22.5" textLength="11.8" lengthAdjust="spacingAndGlyphs">a</text><text x="20" y="209.2">b</text><text x="306.6" y="22.5" textLength="11.2" lengthAdjust="spacingAndGlyphs">c</text><text x="304.9" y="209.8">d</text><text x="20.3" y="420.6">e</text></g>
<rect x="9.6" y="23.8" width="2" height="1" fill="#3a3"/>
<rect x="86.0" y="420.6" width="404.3" height="325.6" fill="none" stroke="#000" stroke-width="1.5"/>
<path d="M136.5 746.2v-3.2M136.5 420.6v3.2M187.1 746.2v-6.0M187.1 420.6v6.0M237.6 746.2v-3.2M237.6 420.6v3.2M288.1 746.2v-6.0M288.1 420.6v6.0M338.7 746.2v-3.2M338.7 420.6v3.2M389.2 746.2v-6.0M389.2 420.6v6.0M439.8 746.2v-3.2M439.8 420.6v3.2M86.0 719.1h3.2M490.3 719.1h-3.2M86.0 691.9h6.0M490.3 691.9h-6.0M86.0 664.8h3.2M490.3 664.8h-3.2M86.0 637.7h6.0M490.3 637.7h-6.0M86.0 610.5h3.2M490.3 610.5h-3.2M86.0 583.4h6.0M490.3 583.4h-6.0M86.0 556.3h3.2M490.3 556.3h-3.2M86.0 529.1h6.0M490.3 529.1h-6.0M86.0 502.0h3.2M490.3 502.0h-3.2M86.0 474.9h6.0M490.3 474.9h-6.0M86.0 447.7h3.2M490.3 447.7h-3.2" stroke="#000" stroke-width="1.3" fill="none"/>
<g font-size="14" fill="#000" stroke="#000" stroke-width=".2"><text x="85.7" y="764.3" text-anchor="middle">−1.0</text><text x="186.8" y="764.3" text-anchor="middle">−0.5</text><text x="288.1" y="764.3" text-anchor="middle">0.0</text><text x="389.2" y="764.3" text-anchor="middle">0.5</text><text x="490.3" y="764.3" text-anchor="middle">1.0</text><text x="78.9" y="425.6" text-anchor="end">0.4</text><text x="78.9" y="479.9" text-anchor="end">0.3</text><text x="78.9" y="534.1" text-anchor="end">0.2</text><text x="78.9" y="588.4" text-anchor="end">0.1</text><text x="78.9" y="642.7" text-anchor="end">0.0</text><text x="78.9" y="696.9" text-anchor="end">−0.1</text><text x="78.9" y="751.2" text-anchor="end">−0.2</text></g>
<text x="287.8" y="791" font-size="16.5" text-anchor="middle" stroke="#000" stroke-width=".2">mm</text>
<text transform="translate(36 583.3) rotate(-90)" font-size="16.5" text-anchor="middle" stroke="#000" stroke-width=".2">mm</text>
<path d="M108.7 746.2L110.8 744.4L112.8 742.1L114.9 740.7L116.9 738.9L119.0 735.7L121.0 733.6L123.1 733.6L125.1 730.4L127.2 728.4L129.2 728.3L131.3 725.1L133.3 724.1L135.4 721.3L137.4 719.8L139.5 716.8L141.5 716.0L143.6 714.6L145.6 711.9L147.7 710.5L149.7 708.4L151.8 705.1L153.8 704.8L155.9 702.5L157.9 700.0L160.0 697.4L162.2 697.4L164.4 694.6L166.7 693.3L168.9 691.8L171.1 689.5L173.3 688.1L175.6 685.0L177.8 684.0L180.0 681.3L182.2 680.5L184.4 678.5L186.7 674.8L188.9 673.0L191.1 671.2L193.3 671.1L195.6 668.0L197.8 666.5L200.0 663.8L202.1 662.4L204.2 660.1L206.3 658.1L208.4 656.7L210.5 654.7L212.6 653.5L214.7 651.1L216.8 649.7L218.9 647.5L221.1 645.9L223.2 643.2L225.3 640.1L227.4 639.7L229.5 638.0L231.6 635.9L233.7 633.2L235.8 631.6L237.9 628.5L240.0 628.0L242.0 625.4L244.0 622.7L245.9 620.2L247.9 620.1L249.9 618.4L251.9 614.3L253.9 614.0L255.9 611.1L257.8 608.5L259.8 606.8L261.8 605.9L264.0 604.2L266.2 600.3L268.3 599.7L270.5 596.4L272.7 596.0L274.9 593.1L277.1 592.4L279.2 590.6L281.4 587.6L283.6 586.7L285.8 583.1L288.0 580.5L290.2 579.6L292.4 576.2L294.6 574.6L296.7 573.0L298.9 571.4L301.1 568.2L303.3 565.9L305.5 565.7L307.7 562.5L309.9 562.0L312.0 559.9L314.2 556.8L316.4 555.0L319.1 553.5L321.9 552.1L324.6 550.4L327.3 548.5L330.5 547.6L332.0 544.5L333.8 542.0L336.0 541.0L338.0 540.2L340.4 539.8L342.5 540.2L344.7 541.3L347.0 542.9L351.3 545.2L355.7 547.8L360.0 549.6L364.0 551.3L368.0 553.3L372.0 554.5L376.0 556.3L380.0 558.7L383.8 560.0L387.7 561.8L391.5 563.0L395.4 565.1L399.2 567.0L403.1 568.2L406.9 570.6L410.8 572.4L414.6 573.5L418.5 575.9L422.3 577.5L426.2 579.4L430.0 580.9L433.7 582.9L437.4 584.6L441.1 585.6L444.8 587.3L448.5 589.6L452.3 591.6L456.0 592.5L459.7 594.4L463.4 596.2L467.1 597.6L470.8 599.5" fill="none" stroke="#F23A3A" stroke-width="1.5" stroke-linejoin="round"/>
<path d="M217.5 746.2L222.9 738.5L228.2 731.2L233.6 724.1L239.0 716.3L244.4 708.9L249.7 702.1L255.1 693.6L260.5 687.0L265.9 679.8L271.2 671.8L276.6 664.2L282.0 657.6L287.4 649.4L292.7 641.9L298.1 634.9L303.5 627.8L308.9 619.6L314.2 612.5L319.6 605.3L330.3 608.6L340.9 611.1L351.6 614.5L362.3 616.8L372.9 619.9L383.6 623.2L394.3 626.3L405.0 628.9L415.6 631.6L426.3 634.4L437.0 637.8L447.6 640.4L458.3 644.0L469.0 646.9L479.6 649.2L490.3 652.5" fill="none" stroke="#444" stroke-width="1.4" stroke-dasharray="8.4 5.2" stroke-dashoffset="2.8"/>
<path d="M300.2 449.7h38.2" stroke="#444" stroke-width="1.4" stroke-dasharray="8 7"/>
<path d="M300.2 470.5h38.2" stroke="#F23A3A" stroke-width="1.5"/>
<g font-size="16.7" fill="#000" stroke="#000" stroke-width=".2"><text x="344.1" y="454.8">Unpolished Edge</text><text x="344.1" y="476">Polished Edge</text></g>
<text x="368.1" y="537.6" font-size="12.3" fill="#F04545" textLength="72.3" lengthAdjust="spacingAndGlyphs">r = 19.4  µm</text>
<text x="337.6" y="658.2" font-size="12.3" fill="#333" textLength="69" lengthAdjust="spacingAndGlyphs">r = 14.8 µm</text>
</svg>
</body></html>
